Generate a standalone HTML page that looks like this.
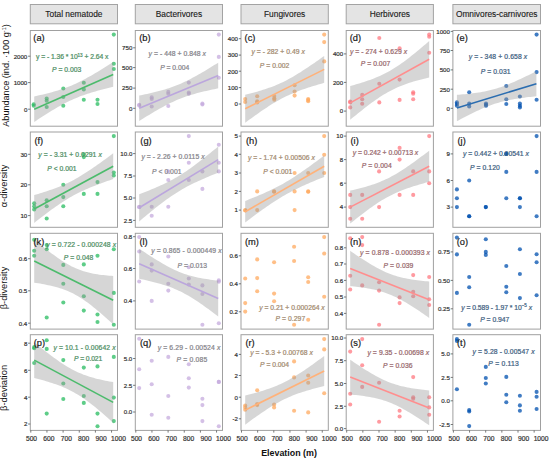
<!DOCTYPE html>
<html><head><meta charset="utf-8"><style>
html,body{margin:0;padding:0;background:#fff;}
svg{display:block;font-family:"Liberation Sans",sans-serif;}
</style></head><body>
<svg width="550" height="461" viewBox="0 0 550 461">
<rect width="550" height="461" fill="#ffffff"/>
<rect x="30.30" y="4.5" width="87.20" height="19.3" fill="#e4e4e4" stroke="#a3a3a3" stroke-width="1"/>
<text x="73.90" y="17.0" font-size="8.35" text-anchor="middle" fill="#1a1a1a" stroke="#1a1a1a" stroke-width="0.12">Total nematode</text>
<rect x="135.30" y="4.5" width="87.20" height="19.3" fill="#e4e4e4" stroke="#a3a3a3" stroke-width="1"/>
<text x="178.90" y="17.0" font-size="8.35" text-anchor="middle" fill="#1a1a1a" stroke="#1a1a1a" stroke-width="0.12">Bacterivores</text>
<rect x="241.00" y="4.5" width="87.30" height="19.3" fill="#e4e4e4" stroke="#a3a3a3" stroke-width="1"/>
<text x="284.65" y="17.0" font-size="8.35" text-anchor="middle" fill="#1a1a1a" stroke="#1a1a1a" stroke-width="0.12">Fungivores</text>
<rect x="346.20" y="4.5" width="87.20" height="19.3" fill="#e4e4e4" stroke="#a3a3a3" stroke-width="1"/>
<text x="389.80" y="17.0" font-size="8.35" text-anchor="middle" fill="#1a1a1a" stroke="#1a1a1a" stroke-width="0.12">Herbivores</text>
<rect x="452.90" y="4.5" width="87.60" height="19.3" fill="#e4e4e4" stroke="#a3a3a3" stroke-width="1"/>
<text x="496.70" y="17.0" font-size="8.35" text-anchor="middle" fill="#1a1a1a" stroke="#1a1a1a" stroke-width="0.12">Omnivores-carnivores</text>
<g>
<rect x="30.30" y="30.50" width="87.20" height="95.70" fill="#ffffff"/>
<clipPath id="cpa"><rect x="30.30" y="30.50" width="87.20" height="95.70"/></clipPath>
<g clip-path="url(#cpa)">
<circle cx="113.8" cy="34.6" r="2.05" fill="#28bc60" fill-opacity="0.75"/>
<circle cx="113.8" cy="63.7" r="2.05" fill="#28bc60" fill-opacity="0.75"/>
<circle cx="113.8" cy="69.0" r="2.05" fill="#28bc60" fill-opacity="0.75"/>
<circle cx="83.8" cy="82.8" r="2.05" fill="#28bc60" fill-opacity="0.75"/>
<circle cx="83.8" cy="89.4" r="2.05" fill="#28bc60" fill-opacity="0.75"/>
<circle cx="83.8" cy="99.7" r="2.05" fill="#28bc60" fill-opacity="0.75"/>
<circle cx="97.5" cy="99.7" r="2.05" fill="#28bc60" fill-opacity="0.75"/>
<circle cx="97.5" cy="104.0" r="2.05" fill="#28bc60" fill-opacity="0.75"/>
<circle cx="63.3" cy="88.5" r="2.05" fill="#28bc60" fill-opacity="0.75"/>
<circle cx="63.3" cy="97.0" r="2.05" fill="#28bc60" fill-opacity="0.75"/>
<circle cx="63.3" cy="105.8" r="2.05" fill="#28bc60" fill-opacity="0.75"/>
<circle cx="46.7" cy="98.5" r="2.05" fill="#28bc60" fill-opacity="0.75"/>
<circle cx="46.7" cy="100.8" r="2.05" fill="#28bc60" fill-opacity="0.75"/>
<circle cx="46.7" cy="107.0" r="2.05" fill="#28bc60" fill-opacity="0.75"/>
<circle cx="33.7" cy="104.2" r="2.05" fill="#28bc60" fill-opacity="0.75"/>
<circle cx="33.7" cy="105.8" r="2.05" fill="#28bc60" fill-opacity="0.75"/>
<path d="M34.20,96.45 L36.18,96.02 L38.15,95.57 L40.12,95.12 L42.10,94.66 L44.08,94.19 L46.05,93.70 L48.03,93.20 L50.00,92.68 L51.98,92.14 L53.95,91.59 L55.93,91.01 L57.90,90.41 L59.88,89.79 L61.85,89.14 L63.83,88.45 L65.80,87.74 L67.78,87.00 L69.75,86.22 L71.72,85.40 L73.70,84.55 L75.68,83.66 L77.65,82.73 L79.62,81.77 L81.60,80.78 L83.58,79.75 L85.55,78.70 L87.53,77.62 L89.50,76.51 L91.47,75.38 L93.45,74.24 L95.43,73.07 L97.40,71.88 L99.38,70.69 L101.35,69.47 L103.33,68.25 L105.30,67.02 L107.28,65.77 L109.25,64.52 L111.23,63.26 L113.20,62.00 L113.20,86.80 L111.23,87.28 L109.25,87.76 L107.28,88.25 L105.30,88.74 L103.33,89.25 L101.35,89.77 L99.38,90.29 L97.40,90.84 L95.43,91.39 L93.45,91.96 L91.47,92.56 L89.50,93.17 L87.53,93.80 L85.55,94.46 L83.58,95.15 L81.60,95.86 L79.62,96.61 L77.65,97.39 L75.68,98.20 L73.70,99.05 L71.72,99.94 L69.75,100.86 L67.78,101.82 L65.80,102.82 L63.83,103.85 L61.85,104.90 L59.88,105.99 L57.90,107.11 L55.93,108.25 L53.95,109.41 L51.98,110.60 L50.00,111.80 L48.03,113.02 L46.05,114.26 L44.08,115.51 L42.10,116.78 L40.12,118.06 L38.15,119.35 L36.18,120.64 L34.20,121.95Z" fill="#999999" fill-opacity="0.4"/>
<line x1="34.20" y1="109.20" x2="113.20" y2="74.40" stroke="#4cbb6c" stroke-width="1.6"/>
</g>
<text x="33.30" y="40.60" font-size="9.3" fill="#1a1a1a" stroke="#1a1a1a" stroke-width="0.2">(a)</text>
<text x="36.00" y="59.40" font-size="6.8" fill="#4f8f65" stroke="#4f8f65" stroke-width="0.22" xml:space="preserve" textLength="72.40" lengthAdjust="spacing">y = - 1.36 * 10<tspan dy="-2.6" font-size="4.6">13</tspan><tspan dy="2.6"> + 2.64 x</tspan></text>
<text x="51.90" y="72.10" font-size="6.8" fill="#4f8f65" stroke="#4f8f65" stroke-width="0.22" xml:space="preserve" textLength="29.50" lengthAdjust="spacing"><tspan font-style="italic">P</tspan> = 0.003</text>
<rect x="30.30" y="30.50" width="87.20" height="95.70" fill="none" stroke="#a0a0a0" stroke-width="1"/>
<line x1="28.10" y1="56.20" x2="30.30" y2="56.20" stroke="#555" stroke-width="0.8"/>
<text x="27.30" y="58.50" font-size="6.15" text-anchor="end" fill="#333" stroke="#333" stroke-width="0.2">2000</text>
<line x1="28.10" y1="82.60" x2="30.30" y2="82.60" stroke="#555" stroke-width="0.8"/>
<text x="27.30" y="84.90" font-size="6.15" text-anchor="end" fill="#333" stroke="#333" stroke-width="0.2">1000</text>
<line x1="28.10" y1="109.20" x2="30.30" y2="109.20" stroke="#555" stroke-width="0.8"/>
<text x="27.30" y="111.50" font-size="6.15" text-anchor="end" fill="#333" stroke="#333" stroke-width="0.2">0</text>
</g>
<g>
<rect x="135.30" y="30.50" width="87.20" height="95.70" fill="#ffffff"/>
<clipPath id="cpb"><rect x="135.30" y="30.50" width="87.20" height="95.70"/></clipPath>
<g clip-path="url(#cpb)">
<circle cx="218.8" cy="34.6" r="2.05" fill="#c6abde" fill-opacity="0.75"/>
<circle cx="218.8" cy="56.9" r="2.05" fill="#c6abde" fill-opacity="0.75"/>
<circle cx="218.8" cy="77.8" r="2.05" fill="#c6abde" fill-opacity="0.75"/>
<circle cx="202.4" cy="103.6" r="2.05" fill="#c6abde" fill-opacity="0.75"/>
<circle cx="202.4" cy="104.5" r="2.05" fill="#c6abde" fill-opacity="0.75"/>
<circle cx="188.8" cy="82.6" r="2.05" fill="#c6abde" fill-opacity="0.75"/>
<circle cx="188.8" cy="92.6" r="2.05" fill="#c6abde" fill-opacity="0.75"/>
<circle cx="188.8" cy="93.8" r="2.05" fill="#c6abde" fill-opacity="0.75"/>
<circle cx="168.3" cy="91.9" r="2.05" fill="#c6abde" fill-opacity="0.75"/>
<circle cx="168.3" cy="93.8" r="2.05" fill="#c6abde" fill-opacity="0.75"/>
<circle cx="168.3" cy="106.0" r="2.05" fill="#c6abde" fill-opacity="0.75"/>
<circle cx="151.7" cy="97.4" r="2.05" fill="#c6abde" fill-opacity="0.75"/>
<circle cx="151.7" cy="99.0" r="2.05" fill="#c6abde" fill-opacity="0.75"/>
<circle cx="151.7" cy="106.5" r="2.05" fill="#c6abde" fill-opacity="0.75"/>
<circle cx="139.2" cy="104.7" r="2.05" fill="#c6abde" fill-opacity="0.75"/>
<circle cx="139.2" cy="105.6" r="2.05" fill="#c6abde" fill-opacity="0.75"/>
<path d="M139.20,95.55 L141.17,95.16 L143.15,94.75 L145.12,94.34 L147.10,93.92 L149.07,93.49 L151.05,93.04 L153.02,92.59 L155.00,92.11 L156.97,91.62 L158.95,91.11 L160.92,90.58 L162.90,90.02 L164.88,89.45 L166.85,88.84 L168.82,88.20 L170.80,87.54 L172.77,86.83 L174.75,86.10 L176.72,85.33 L178.70,84.52 L180.67,83.67 L182.65,82.79 L184.62,81.87 L186.60,80.92 L188.57,79.93 L190.55,78.92 L192.52,77.87 L194.50,76.80 L196.47,75.71 L198.45,74.60 L200.42,73.46 L202.40,72.31 L204.38,71.15 L206.35,69.96 L208.32,68.77 L210.30,67.56 L212.27,66.35 L214.25,65.12 L216.22,63.89 L218.20,62.65 L218.20,88.35 L216.22,88.75 L214.25,89.16 L212.27,89.57 L210.30,90.00 L208.32,90.43 L206.35,90.88 L204.38,91.33 L202.40,91.81 L200.42,92.30 L198.45,92.80 L196.47,93.33 L194.50,93.88 L192.52,94.45 L190.55,95.04 L188.57,95.67 L186.60,96.32 L184.62,97.01 L182.65,97.73 L180.67,98.49 L178.70,99.28 L176.72,100.11 L174.75,100.98 L172.77,101.89 L170.80,102.82 L168.82,103.80 L166.85,104.80 L164.88,105.83 L162.90,106.90 L160.92,107.98 L158.95,109.09 L156.97,110.22 L155.00,111.37 L153.02,112.53 L151.05,113.72 L149.07,114.91 L147.10,116.12 L145.12,117.34 L143.15,118.57 L141.17,119.80 L139.20,121.05Z" fill="#999999" fill-opacity="0.4"/>
<line x1="139.20" y1="108.30" x2="218.20" y2="75.50" stroke="#bba6dd" stroke-width="1.6"/>
</g>
<text x="139.20" y="40.60" font-size="9.3" fill="#1a1a1a" stroke="#1a1a1a" stroke-width="0.2">(b)</text>
<text x="148.60" y="55.50" font-size="6.8" fill="#86858b" stroke="#86858b" stroke-width="0.22" xml:space="preserve" textLength="57.40" lengthAdjust="spacing"><tspan font-style="italic">y</tspan> = - 448 + 0.848 <tspan font-style="italic">x</tspan></text>
<text x="160.20" y="70.30" font-size="6.8" fill="#86858b" stroke="#86858b" stroke-width="0.22" xml:space="preserve" textLength="29.00" lengthAdjust="spacing"><tspan font-style="italic">P</tspan> = 0.004</text>
<rect x="135.30" y="30.50" width="87.20" height="95.70" fill="none" stroke="#a0a0a0" stroke-width="1"/>
<line x1="133.10" y1="47.80" x2="135.30" y2="47.80" stroke="#555" stroke-width="0.8"/>
<text x="132.30" y="50.10" font-size="6.15" text-anchor="end" fill="#333" stroke="#333" stroke-width="0.2">750</text>
<line x1="133.10" y1="67.60" x2="135.30" y2="67.60" stroke="#555" stroke-width="0.8"/>
<text x="132.30" y="69.90" font-size="6.15" text-anchor="end" fill="#333" stroke="#333" stroke-width="0.2">500</text>
<line x1="133.10" y1="88.10" x2="135.30" y2="88.10" stroke="#555" stroke-width="0.8"/>
<text x="132.30" y="90.40" font-size="6.15" text-anchor="end" fill="#333" stroke="#333" stroke-width="0.2">250</text>
<line x1="133.10" y1="108.30" x2="135.30" y2="108.30" stroke="#555" stroke-width="0.8"/>
<text x="132.30" y="110.60" font-size="6.15" text-anchor="end" fill="#333" stroke="#333" stroke-width="0.2">0</text>
</g>
<g>
<rect x="241.00" y="30.50" width="87.30" height="95.70" fill="#ffffff"/>
<clipPath id="cpc"><rect x="241.00" y="30.50" width="87.30" height="95.70"/></clipPath>
<g clip-path="url(#cpc)">
<circle cx="324.2" cy="34.6" r="2.05" fill="#ffaa5f" fill-opacity="0.75"/>
<circle cx="324.2" cy="42.1" r="2.05" fill="#ffaa5f" fill-opacity="0.75"/>
<circle cx="324.2" cy="61.4" r="2.05" fill="#ffaa5f" fill-opacity="0.75"/>
<circle cx="308.2" cy="99.0" r="2.05" fill="#ffaa5f" fill-opacity="0.75"/>
<circle cx="308.2" cy="100.1" r="2.05" fill="#ffaa5f" fill-opacity="0.75"/>
<circle cx="308.2" cy="101.3" r="2.05" fill="#ffaa5f" fill-opacity="0.75"/>
<circle cx="294.6" cy="85.3" r="2.05" fill="#ffaa5f" fill-opacity="0.75"/>
<circle cx="294.6" cy="91.5" r="2.05" fill="#ffaa5f" fill-opacity="0.75"/>
<circle cx="294.6" cy="95.6" r="2.05" fill="#ffaa5f" fill-opacity="0.75"/>
<circle cx="274.3" cy="96.0" r="2.05" fill="#ffaa5f" fill-opacity="0.75"/>
<circle cx="274.3" cy="98.3" r="2.05" fill="#ffaa5f" fill-opacity="0.75"/>
<circle cx="274.3" cy="99.7" r="2.05" fill="#ffaa5f" fill-opacity="0.75"/>
<circle cx="257.2" cy="96.3" r="2.05" fill="#ffaa5f" fill-opacity="0.75"/>
<circle cx="257.2" cy="101.3" r="2.05" fill="#ffaa5f" fill-opacity="0.75"/>
<circle cx="257.2" cy="102.4" r="2.05" fill="#ffaa5f" fill-opacity="0.75"/>
<circle cx="245.2" cy="99.0" r="2.05" fill="#ffaa5f" fill-opacity="0.75"/>
<circle cx="245.2" cy="102.0" r="2.05" fill="#ffaa5f" fill-opacity="0.75"/>
<path d="M245.20,94.80 L247.17,94.30 L249.15,93.80 L251.12,93.28 L253.10,92.74 L255.07,92.20 L257.05,91.64 L259.02,91.06 L261.00,90.47 L262.97,89.85 L264.95,89.22 L266.93,88.55 L268.90,87.87 L270.88,87.15 L272.85,86.41 L274.82,85.63 L276.80,84.81 L278.77,83.96 L280.75,83.07 L282.72,82.15 L284.70,81.18 L286.68,80.17 L288.65,79.12 L290.62,78.04 L292.60,76.92 L294.57,75.77 L296.55,74.58 L298.52,73.37 L300.50,72.13 L302.47,70.86 L304.45,69.58 L306.43,68.27 L308.40,66.95 L310.38,65.61 L312.35,64.26 L314.32,62.90 L316.30,61.53 L318.27,60.14 L320.25,58.75 L322.23,57.35 L324.20,55.95 L324.20,82.85 L322.23,83.42 L320.25,83.99 L318.27,84.57 L316.30,85.15 L314.32,85.75 L312.35,86.36 L310.38,86.98 L308.40,87.61 L306.43,88.26 L304.45,88.92 L302.47,89.61 L300.50,90.31 L298.52,91.04 L296.55,91.80 L294.57,92.58 L292.60,93.40 L290.62,94.25 L288.65,95.14 L286.68,96.06 L284.70,97.02 L282.72,98.02 L280.75,99.07 L278.77,100.15 L276.80,101.27 L274.82,102.42 L272.85,103.61 L270.88,104.84 L268.90,106.09 L266.93,107.38 L264.95,108.68 L262.97,110.02 L261.00,111.37 L259.02,112.75 L257.05,114.14 L255.07,115.55 L253.10,116.98 L251.12,118.41 L249.15,119.86 L247.17,121.33 L245.20,122.80Z" fill="#999999" fill-opacity="0.4"/>
<line x1="245.20" y1="108.80" x2="324.20" y2="69.40" stroke="#ffb27a" stroke-width="1.6"/>
</g>
<text x="244.60" y="40.60" font-size="9.3" fill="#1a1a1a" stroke="#1a1a1a" stroke-width="0.2">(c)</text>
<text x="251.40" y="53.80" font-size="6.8" fill="#a38b70" stroke="#a38b70" stroke-width="0.22" xml:space="preserve" textLength="53.60" lengthAdjust="spacing"><tspan font-style="italic">y</tspan> = - 282 + 0.49 <tspan font-style="italic">x</tspan></text>
<text x="259.80" y="68.00" font-size="6.8" fill="#a38b70" stroke="#a38b70" stroke-width="0.22" xml:space="preserve" textLength="29.50" lengthAdjust="spacing"><tspan font-style="italic">P</tspan> = 0.002</text>
<rect x="241.00" y="30.50" width="87.30" height="95.70" fill="none" stroke="#a0a0a0" stroke-width="1"/>
<line x1="238.80" y1="38.70" x2="241.00" y2="38.70" stroke="#555" stroke-width="0.8"/>
<text x="238.00" y="41.00" font-size="6.15" text-anchor="end" fill="#333" stroke="#333" stroke-width="0.2">400</text>
<line x1="238.80" y1="55.10" x2="241.00" y2="55.10" stroke="#555" stroke-width="0.8"/>
<text x="238.00" y="57.40" font-size="6.15" text-anchor="end" fill="#333" stroke="#333" stroke-width="0.2">300</text>
<line x1="238.80" y1="71.20" x2="241.00" y2="71.20" stroke="#555" stroke-width="0.8"/>
<text x="238.00" y="73.50" font-size="6.15" text-anchor="end" fill="#333" stroke="#333" stroke-width="0.2">200</text>
<line x1="238.80" y1="87.60" x2="241.00" y2="87.60" stroke="#555" stroke-width="0.8"/>
<text x="238.00" y="89.90" font-size="6.15" text-anchor="end" fill="#333" stroke="#333" stroke-width="0.2">100</text>
<line x1="238.80" y1="104.00" x2="241.00" y2="104.00" stroke="#555" stroke-width="0.8"/>
<text x="238.00" y="106.30" font-size="6.15" text-anchor="end" fill="#333" stroke="#333" stroke-width="0.2">0</text>
</g>
<g>
<rect x="346.20" y="30.50" width="87.20" height="95.70" fill="#ffffff"/>
<clipPath id="cpd"><rect x="346.20" y="30.50" width="87.20" height="95.70"/></clipPath>
<g clip-path="url(#cpd)">
<circle cx="429.2" cy="34.6" r="2.05" fill="#ff7880" fill-opacity="0.75"/>
<circle cx="429.2" cy="36.8" r="2.05" fill="#ff7880" fill-opacity="0.75"/>
<circle cx="429.2" cy="52.8" r="2.05" fill="#ff7880" fill-opacity="0.75"/>
<circle cx="413.2" cy="92.2" r="2.05" fill="#ff7880" fill-opacity="0.75"/>
<circle cx="413.2" cy="93.8" r="2.05" fill="#ff7880" fill-opacity="0.75"/>
<circle cx="413.2" cy="99.2" r="2.05" fill="#ff7880" fill-opacity="0.75"/>
<circle cx="399.6" cy="48.2" r="2.05" fill="#ff7880" fill-opacity="0.75"/>
<circle cx="399.6" cy="79.6" r="2.05" fill="#ff7880" fill-opacity="0.75"/>
<circle cx="399.6" cy="99.9" r="2.05" fill="#ff7880" fill-opacity="0.75"/>
<circle cx="379.3" cy="38.0" r="2.05" fill="#ff7880" fill-opacity="0.75"/>
<circle cx="379.3" cy="83.7" r="2.05" fill="#ff7880" fill-opacity="0.75"/>
<circle cx="379.3" cy="102.4" r="2.05" fill="#ff7880" fill-opacity="0.75"/>
<circle cx="362.2" cy="94.9" r="2.05" fill="#ff7880" fill-opacity="0.75"/>
<circle cx="362.2" cy="99.2" r="2.05" fill="#ff7880" fill-opacity="0.75"/>
<circle cx="362.2" cy="103.8" r="2.05" fill="#ff7880" fill-opacity="0.75"/>
<circle cx="350.2" cy="101.5" r="2.05" fill="#ff7880" fill-opacity="0.75"/>
<circle cx="350.2" cy="102.4" r="2.05" fill="#ff7880" fill-opacity="0.75"/>
<circle cx="350.2" cy="107.4" r="2.05" fill="#ff7880" fill-opacity="0.75"/>
<path d="M350.20,86.05 L352.18,85.49 L354.15,84.93 L356.12,84.35 L358.10,83.76 L360.07,83.16 L362.05,82.54 L364.02,81.91 L366.00,81.26 L367.97,80.58 L369.95,79.88 L371.93,79.16 L373.90,78.40 L375.88,77.62 L377.85,76.79 L379.82,75.93 L381.80,75.02 L383.77,74.07 L385.75,73.07 L387.72,72.03 L389.70,70.93 L391.68,69.78 L393.65,68.58 L395.62,67.33 L397.60,66.04 L399.57,64.70 L401.55,63.32 L403.52,61.89 L405.50,60.43 L407.47,58.94 L409.45,57.41 L411.43,55.86 L413.40,54.28 L415.38,52.68 L417.35,51.05 L419.32,49.41 L421.30,47.75 L423.27,46.07 L425.25,44.38 L427.23,42.67 L429.20,40.95 L429.20,77.45 L427.23,77.92 L425.25,78.39 L423.27,78.89 L421.30,79.39 L419.32,79.92 L417.35,80.46 L415.38,81.02 L413.40,81.60 L411.43,82.21 L409.45,82.84 L407.47,83.50 L405.50,84.19 L403.52,84.91 L401.55,85.67 L399.57,86.48 L397.60,87.32 L395.62,88.21 L393.65,89.15 L391.68,90.13 L389.70,91.17 L387.72,92.26 L385.75,93.40 L383.77,94.58 L381.80,95.82 L379.82,97.10 L377.85,98.42 L375.88,99.78 L373.90,101.18 L371.93,102.61 L369.95,104.07 L367.97,105.55 L366.00,107.06 L364.02,108.60 L362.05,110.15 L360.07,111.72 L358.10,113.30 L356.12,114.90 L354.15,116.50 L352.18,118.12 L350.20,119.75Z" fill="#999999" fill-opacity="0.4"/>
<line x1="350.20" y1="102.90" x2="429.20" y2="59.20" stroke="#ff8e8e" stroke-width="1.6"/>
</g>
<text x="349.70" y="41.10" font-size="9.3" fill="#1a1a1a" stroke="#1a1a1a" stroke-width="0.2">(d)</text>
<text x="349.90" y="54.00" font-size="6.8" fill="#98686c" stroke="#98686c" stroke-width="0.22" xml:space="preserve" textLength="57.20" lengthAdjust="spacing"><tspan font-style="italic">y</tspan> = - 274 + 0.629 <tspan font-style="italic">x</tspan></text>
<text x="360.80" y="65.80" font-size="6.8" fill="#98686c" stroke="#98686c" stroke-width="0.22" xml:space="preserve" textLength="29.40" lengthAdjust="spacing"><tspan font-style="italic">P</tspan> = 0.007</text>
<rect x="346.20" y="30.50" width="87.20" height="95.70" fill="none" stroke="#a0a0a0" stroke-width="1"/>
<line x1="344.00" y1="53.90" x2="346.20" y2="53.90" stroke="#555" stroke-width="0.8"/>
<text x="343.20" y="56.20" font-size="6.15" text-anchor="end" fill="#333" stroke="#333" stroke-width="0.2">400</text>
<line x1="344.00" y1="82.40" x2="346.20" y2="82.40" stroke="#555" stroke-width="0.8"/>
<text x="343.20" y="84.70" font-size="6.15" text-anchor="end" fill="#333" stroke="#333" stroke-width="0.2">200</text>
<line x1="344.00" y1="111.10" x2="346.20" y2="111.10" stroke="#555" stroke-width="0.8"/>
<text x="343.20" y="113.40" font-size="6.15" text-anchor="end" fill="#333" stroke="#333" stroke-width="0.2">0</text>
</g>
<g>
<rect x="452.90" y="30.50" width="87.60" height="95.70" fill="#ffffff"/>
<clipPath id="cpe"><rect x="452.90" y="30.50" width="87.60" height="95.70"/></clipPath>
<g clip-path="url(#cpe)">
<circle cx="536.6" cy="34.6" r="2.05" fill="#0050af" fill-opacity="0.75"/>
<circle cx="536.6" cy="72.1" r="2.05" fill="#0050af" fill-opacity="0.75"/>
<circle cx="536.6" cy="99.7" r="2.05" fill="#0050af" fill-opacity="0.75"/>
<circle cx="519.9" cy="96.5" r="2.05" fill="#0050af" fill-opacity="0.75"/>
<circle cx="519.9" cy="103.6" r="2.05" fill="#0050af" fill-opacity="0.75"/>
<circle cx="519.9" cy="105.8" r="2.05" fill="#0050af" fill-opacity="0.75"/>
<circle cx="519.9" cy="107.4" r="2.05" fill="#0050af" fill-opacity="0.75"/>
<circle cx="506.3" cy="86.0" r="2.05" fill="#0050af" fill-opacity="0.75"/>
<circle cx="506.3" cy="99.2" r="2.05" fill="#0050af" fill-opacity="0.75"/>
<circle cx="506.3" cy="104.0" r="2.05" fill="#0050af" fill-opacity="0.75"/>
<circle cx="486.0" cy="103.6" r="2.05" fill="#0050af" fill-opacity="0.75"/>
<circle cx="486.0" cy="104.7" r="2.05" fill="#0050af" fill-opacity="0.75"/>
<circle cx="486.0" cy="105.8" r="2.05" fill="#0050af" fill-opacity="0.75"/>
<circle cx="469.2" cy="92.2" r="2.05" fill="#0050af" fill-opacity="0.75"/>
<circle cx="469.2" cy="103.6" r="2.05" fill="#0050af" fill-opacity="0.75"/>
<circle cx="469.2" cy="106.5" r="2.05" fill="#0050af" fill-opacity="0.75"/>
<circle cx="456.9" cy="102.4" r="2.05" fill="#0050af" fill-opacity="0.75"/>
<circle cx="456.9" cy="104.0" r="2.05" fill="#0050af" fill-opacity="0.75"/>
<circle cx="456.9" cy="105.8" r="2.05" fill="#0050af" fill-opacity="0.75"/>
<path d="M456.90,94.80 L458.89,94.66 L460.88,94.51 L462.86,94.35 L464.85,94.17 L466.84,93.99 L468.82,93.78 L470.81,93.57 L472.80,93.33 L474.79,93.08 L476.77,92.80 L478.76,92.50 L480.75,92.18 L482.74,91.83 L484.72,91.45 L486.71,91.04 L488.70,90.60 L490.69,90.12 L492.67,89.60 L494.66,89.05 L496.65,88.46 L498.64,87.84 L500.62,87.17 L502.61,86.47 L504.60,85.74 L506.59,84.98 L508.57,84.18 L510.56,83.36 L512.55,82.52 L514.54,81.65 L516.52,80.77 L518.51,79.86 L520.50,78.94 L522.49,78.01 L524.48,77.06 L526.46,76.11 L528.45,75.14 L530.44,74.16 L532.42,73.18 L534.41,72.19 L536.40,71.20 L536.40,96.20 L534.41,96.42 L532.42,96.65 L530.44,96.88 L528.45,97.12 L526.46,97.37 L524.48,97.63 L522.49,97.90 L520.50,98.18 L518.51,98.47 L516.52,98.78 L514.54,99.11 L512.55,99.46 L510.56,99.83 L508.57,100.23 L506.59,100.65 L504.60,101.10 L502.61,101.58 L500.62,102.10 L498.64,102.65 L496.65,103.24 L494.66,103.86 L492.67,104.53 L490.69,105.23 L488.70,105.96 L486.71,106.73 L484.72,107.54 L482.74,108.37 L480.75,109.24 L478.76,110.13 L476.77,111.05 L474.79,111.99 L472.80,112.95 L470.81,113.93 L468.82,114.93 L466.84,115.94 L464.85,116.97 L462.86,118.01 L460.88,119.06 L458.89,120.13 L456.90,121.20Z" fill="#999999" fill-opacity="0.4"/>
<line x1="456.90" y1="108.00" x2="536.40" y2="83.70" stroke="#2b6db0" stroke-width="1.6"/>
</g>
<text x="456.50" y="40.60" font-size="9.3" fill="#1a1a1a" stroke="#1a1a1a" stroke-width="0.2">(e)</text>
<text x="468.70" y="58.70" font-size="6.8" fill="#3f6282" stroke="#3f6282" stroke-width="0.22" xml:space="preserve" textLength="58.50" lengthAdjust="spacing"><tspan font-style="italic">y</tspan> = - 348 + 0.658 <tspan font-style="italic">x</tspan></text>
<text x="480.70" y="73.70" font-size="6.8" fill="#3f6282" stroke="#3f6282" stroke-width="0.22" xml:space="preserve" textLength="29.80" lengthAdjust="spacing"><tspan font-style="italic">P</tspan> = 0.031</text>
<rect x="452.90" y="30.50" width="87.60" height="95.70" fill="none" stroke="#a0a0a0" stroke-width="1"/>
<line x1="450.70" y1="31.40" x2="452.90" y2="31.40" stroke="#555" stroke-width="0.8"/>
<text x="449.90" y="33.70" font-size="6.15" text-anchor="end" fill="#333" stroke="#333" stroke-width="0.2">1000</text>
<line x1="450.70" y1="50.50" x2="452.90" y2="50.50" stroke="#555" stroke-width="0.8"/>
<text x="449.90" y="52.80" font-size="6.15" text-anchor="end" fill="#333" stroke="#333" stroke-width="0.2">750</text>
<line x1="450.70" y1="69.90" x2="452.90" y2="69.90" stroke="#555" stroke-width="0.8"/>
<text x="449.90" y="72.20" font-size="6.15" text-anchor="end" fill="#333" stroke="#333" stroke-width="0.2">500</text>
<line x1="450.70" y1="89.20" x2="452.90" y2="89.20" stroke="#555" stroke-width="0.8"/>
<text x="449.90" y="91.50" font-size="6.15" text-anchor="end" fill="#333" stroke="#333" stroke-width="0.2">250</text>
<line x1="450.70" y1="108.30" x2="452.90" y2="108.30" stroke="#555" stroke-width="0.8"/>
<text x="449.90" y="110.60" font-size="6.15" text-anchor="end" fill="#333" stroke="#333" stroke-width="0.2">0</text>
</g>
<g>
<rect x="30.30" y="132.00" width="87.20" height="95.30" fill="#ffffff"/>
<clipPath id="cpf"><rect x="30.30" y="132.00" width="87.20" height="95.30"/></clipPath>
<g clip-path="url(#cpf)">
<circle cx="113.8" cy="136.1" r="2.05" fill="#28bc60" fill-opacity="0.75"/>
<circle cx="113.8" cy="172.5" r="2.05" fill="#28bc60" fill-opacity="0.75"/>
<circle cx="113.8" cy="175.5" r="2.05" fill="#28bc60" fill-opacity="0.75"/>
<circle cx="97.5" cy="182.1" r="2.05" fill="#28bc60" fill-opacity="0.75"/>
<circle cx="97.5" cy="193.9" r="2.05" fill="#28bc60" fill-opacity="0.75"/>
<circle cx="83.8" cy="154.3" r="2.05" fill="#28bc60" fill-opacity="0.75"/>
<circle cx="83.8" cy="157.1" r="2.05" fill="#28bc60" fill-opacity="0.75"/>
<circle cx="83.8" cy="193.9" r="2.05" fill="#28bc60" fill-opacity="0.75"/>
<circle cx="63.3" cy="184.8" r="2.05" fill="#28bc60" fill-opacity="0.75"/>
<circle cx="63.3" cy="197.1" r="2.05" fill="#28bc60" fill-opacity="0.75"/>
<circle cx="63.3" cy="206.2" r="2.05" fill="#28bc60" fill-opacity="0.75"/>
<circle cx="46.7" cy="200.3" r="2.05" fill="#28bc60" fill-opacity="0.75"/>
<circle cx="46.7" cy="206.2" r="2.05" fill="#28bc60" fill-opacity="0.75"/>
<circle cx="46.7" cy="218.5" r="2.05" fill="#28bc60" fill-opacity="0.75"/>
<circle cx="34.2" cy="203.3" r="2.05" fill="#28bc60" fill-opacity="0.75"/>
<circle cx="34.2" cy="206.2" r="2.05" fill="#28bc60" fill-opacity="0.75"/>
<circle cx="34.2" cy="209.4" r="2.05" fill="#28bc60" fill-opacity="0.75"/>
<path d="M34.20,195.10 L36.18,194.52 L38.15,193.93 L40.12,193.33 L42.10,192.72 L44.08,192.09 L46.05,191.45 L48.03,190.79 L50.00,190.11 L51.98,189.42 L53.95,188.70 L55.93,187.96 L57.90,187.19 L59.88,186.40 L61.85,185.57 L63.83,184.71 L65.80,183.82 L67.78,182.89 L69.75,181.93 L71.72,180.92 L73.70,179.88 L75.68,178.80 L77.65,177.68 L79.62,176.53 L81.60,175.34 L83.58,174.11 L85.55,172.86 L87.53,171.58 L89.50,170.27 L91.47,168.94 L93.45,167.59 L95.43,166.22 L97.40,164.84 L99.38,163.43 L101.35,162.02 L103.33,160.60 L105.30,159.16 L107.28,157.72 L109.25,156.27 L111.23,154.81 L113.20,153.35 L113.20,179.05 L111.23,179.73 L109.25,180.41 L107.28,181.10 L105.30,181.80 L103.33,182.50 L101.35,183.22 L99.38,183.95 L97.40,184.68 L95.43,185.44 L93.45,186.21 L91.47,187.00 L89.50,187.81 L87.53,188.64 L85.55,189.50 L83.58,190.39 L81.60,191.30 L79.62,192.25 L77.65,193.24 L75.68,194.26 L73.70,195.32 L71.72,196.42 L69.75,197.55 L67.78,198.73 L65.80,199.94 L63.83,201.19 L61.85,202.47 L59.88,203.78 L57.90,205.13 L55.93,206.50 L53.95,207.90 L51.98,209.32 L50.00,210.77 L48.03,212.23 L46.05,213.71 L44.08,215.21 L42.10,216.72 L40.12,218.25 L38.15,219.79 L36.18,221.34 L34.20,222.90Z" fill="#999999" fill-opacity="0.4"/>
<line x1="34.20" y1="209.00" x2="113.20" y2="166.20" stroke="#4cbb6c" stroke-width="1.6"/>
</g>
<text x="34.40" y="143.50" font-size="9.3" fill="#1a1a1a" stroke="#1a1a1a" stroke-width="0.2">(f)</text>
<text x="38.30" y="157.00" font-size="6.8" fill="#4f8f65" stroke="#4f8f65" stroke-width="0.22" xml:space="preserve" textLength="63.50" lengthAdjust="spacing"><tspan font-style="italic">y</tspan> = - 3.31 + 0.0291 <tspan font-style="italic">x</tspan></text>
<text x="47.30" y="171.00" font-size="6.8" fill="#4f8f65" stroke="#4f8f65" stroke-width="0.22" xml:space="preserve" textLength="29.20" lengthAdjust="spacing"><tspan font-style="italic">P</tspan> < 0.001</text>
<rect x="30.30" y="132.00" width="87.20" height="95.30" fill="none" stroke="#a0a0a0" stroke-width="1"/>
<line x1="28.10" y1="154.30" x2="30.30" y2="154.30" stroke="#555" stroke-width="0.8"/>
<text x="27.30" y="156.60" font-size="6.15" text-anchor="end" fill="#333" stroke="#333" stroke-width="0.2">30</text>
<line x1="28.10" y1="184.80" x2="30.30" y2="184.80" stroke="#555" stroke-width="0.8"/>
<text x="27.30" y="187.10" font-size="6.15" text-anchor="end" fill="#333" stroke="#333" stroke-width="0.2">20</text>
<line x1="28.10" y1="215.60" x2="30.30" y2="215.60" stroke="#555" stroke-width="0.8"/>
<text x="27.30" y="217.90" font-size="6.15" text-anchor="end" fill="#333" stroke="#333" stroke-width="0.2">10</text>
</g>
<g>
<rect x="135.30" y="132.00" width="87.20" height="95.30" fill="#ffffff"/>
<clipPath id="cpg"><rect x="135.30" y="132.00" width="87.20" height="95.30"/></clipPath>
<g clip-path="url(#cpg)">
<circle cx="188.8" cy="136.1" r="2.05" fill="#c6abde" fill-opacity="0.75"/>
<circle cx="188.8" cy="162.7" r="2.05" fill="#c6abde" fill-opacity="0.75"/>
<circle cx="188.8" cy="180.0" r="2.05" fill="#c6abde" fill-opacity="0.75"/>
<circle cx="218.8" cy="144.8" r="2.05" fill="#c6abde" fill-opacity="0.75"/>
<circle cx="218.8" cy="162.7" r="2.05" fill="#c6abde" fill-opacity="0.75"/>
<circle cx="218.8" cy="171.4" r="2.05" fill="#c6abde" fill-opacity="0.75"/>
<circle cx="202.4" cy="171.4" r="2.05" fill="#c6abde" fill-opacity="0.75"/>
<circle cx="202.4" cy="188.9" r="2.05" fill="#c6abde" fill-opacity="0.75"/>
<circle cx="168.3" cy="171.4" r="2.05" fill="#c6abde" fill-opacity="0.75"/>
<circle cx="168.3" cy="180.0" r="2.05" fill="#c6abde" fill-opacity="0.75"/>
<circle cx="168.3" cy="206.7" r="2.05" fill="#c6abde" fill-opacity="0.75"/>
<circle cx="151.7" cy="206.7" r="2.05" fill="#c6abde" fill-opacity="0.75"/>
<circle cx="151.7" cy="215.8" r="2.05" fill="#c6abde" fill-opacity="0.75"/>
<circle cx="139.2" cy="206.7" r="2.05" fill="#c6abde" fill-opacity="0.75"/>
<circle cx="139.2" cy="207.2" r="2.05" fill="#c6abde" fill-opacity="0.75"/>
<path d="M139.20,194.15 L141.17,193.42 L143.15,192.68 L145.12,191.92 L147.10,191.16 L149.07,190.38 L151.05,189.59 L153.02,188.78 L155.00,187.96 L156.97,187.11 L158.95,186.25 L160.92,185.36 L162.90,184.45 L164.88,183.51 L166.85,182.54 L168.82,181.54 L170.80,180.50 L172.77,179.43 L174.75,178.33 L176.72,177.18 L178.70,176.00 L180.67,174.78 L182.65,173.52 L184.62,172.22 L186.60,170.89 L188.57,169.52 L190.55,168.13 L192.52,166.70 L194.50,165.25 L196.47,163.78 L198.45,162.28 L200.42,160.76 L202.40,159.23 L204.38,157.68 L206.35,156.12 L208.32,154.55 L210.30,152.97 L212.27,151.37 L214.25,149.77 L216.22,148.16 L218.20,146.55 L218.20,172.65 L216.22,173.45 L214.25,174.25 L212.27,175.06 L210.30,175.87 L208.32,176.70 L206.35,177.54 L204.38,178.39 L202.40,179.25 L200.42,180.13 L198.45,181.02 L196.47,181.93 L194.50,182.87 L192.52,183.83 L190.55,184.81 L188.57,185.83 L186.60,186.87 L184.62,187.95 L182.65,189.06 L180.67,190.21 L178.70,191.40 L176.72,192.63 L174.75,193.89 L172.77,195.20 L170.80,196.54 L168.82,197.91 L166.85,199.32 L164.88,200.76 L162.90,202.23 L160.92,203.73 L158.95,205.25 L156.97,206.80 L155.00,208.36 L153.02,209.95 L151.05,211.55 L149.07,213.17 L147.10,214.80 L145.12,216.45 L143.15,218.10 L141.17,219.77 L139.20,221.45Z" fill="#999999" fill-opacity="0.4"/>
<line x1="139.20" y1="207.80" x2="218.20" y2="159.60" stroke="#bba6dd" stroke-width="1.6"/>
</g>
<text x="140.30" y="143.50" font-size="9.3" fill="#1a1a1a" stroke="#1a1a1a" stroke-width="0.2">(g)</text>
<text x="141.40" y="159.00" font-size="6.8" fill="#86858b" stroke="#86858b" stroke-width="0.22" xml:space="preserve" textLength="63.20" lengthAdjust="spacing"><tspan font-style="italic">y</tspan> = - 2.26 + 0.0115 <tspan font-style="italic">x</tspan></text>
<text x="152.00" y="173.60" font-size="6.8" fill="#86858b" stroke="#86858b" stroke-width="0.22" xml:space="preserve" textLength="29.50" lengthAdjust="spacing"><tspan font-style="italic">P</tspan> < 0.001</text>
<rect x="135.30" y="132.00" width="87.20" height="95.30" fill="none" stroke="#a0a0a0" stroke-width="1"/>
<line x1="133.10" y1="153.60" x2="135.30" y2="153.60" stroke="#555" stroke-width="0.8"/>
<text x="132.30" y="155.90" font-size="6.15" text-anchor="end" fill="#333" stroke="#333" stroke-width="0.2">10.0</text>
<line x1="133.10" y1="176.00" x2="135.30" y2="176.00" stroke="#555" stroke-width="0.8"/>
<text x="132.30" y="178.30" font-size="6.15" text-anchor="end" fill="#333" stroke="#333" stroke-width="0.2">7.5</text>
<line x1="133.10" y1="198.00" x2="135.30" y2="198.00" stroke="#555" stroke-width="0.8"/>
<text x="132.30" y="200.30" font-size="6.15" text-anchor="end" fill="#333" stroke="#333" stroke-width="0.2">5.0</text>
<line x1="133.10" y1="220.40" x2="135.30" y2="220.40" stroke="#555" stroke-width="0.8"/>
<text x="132.30" y="222.70" font-size="6.15" text-anchor="end" fill="#333" stroke="#333" stroke-width="0.2">2.5</text>
</g>
<g>
<rect x="241.00" y="132.00" width="87.30" height="95.30" fill="#ffffff"/>
<clipPath id="cph"><rect x="241.00" y="132.00" width="87.30" height="95.30"/></clipPath>
<g clip-path="url(#cph)">
<circle cx="324.2" cy="136.1" r="2.05" fill="#ffaa5f" fill-opacity="0.75"/>
<circle cx="324.2" cy="154.8" r="2.05" fill="#ffaa5f" fill-opacity="0.75"/>
<circle cx="324.2" cy="173.0" r="2.05" fill="#ffaa5f" fill-opacity="0.75"/>
<circle cx="308.2" cy="173.0" r="2.05" fill="#ffaa5f" fill-opacity="0.75"/>
<circle cx="308.2" cy="191.4" r="2.05" fill="#ffaa5f" fill-opacity="0.75"/>
<circle cx="308.2" cy="191.8" r="2.05" fill="#ffaa5f" fill-opacity="0.75"/>
<circle cx="294.6" cy="173.0" r="2.05" fill="#ffaa5f" fill-opacity="0.75"/>
<circle cx="294.6" cy="191.4" r="2.05" fill="#ffaa5f" fill-opacity="0.75"/>
<circle cx="294.6" cy="210.1" r="2.05" fill="#ffaa5f" fill-opacity="0.75"/>
<circle cx="274.1" cy="191.4" r="2.05" fill="#ffaa5f" fill-opacity="0.75"/>
<circle cx="274.1" cy="191.8" r="2.05" fill="#ffaa5f" fill-opacity="0.75"/>
<circle cx="257.2" cy="191.4" r="2.05" fill="#ffaa5f" fill-opacity="0.75"/>
<circle cx="257.2" cy="210.1" r="2.05" fill="#ffaa5f" fill-opacity="0.75"/>
<circle cx="245.2" cy="210.1" r="2.05" fill="#ffaa5f" fill-opacity="0.75"/>
<circle cx="245.2" cy="210.5" r="2.05" fill="#ffaa5f" fill-opacity="0.75"/>
<path d="M245.20,200.90 L247.17,200.13 L249.15,199.36 L251.12,198.57 L253.10,197.78 L255.07,196.97 L257.05,196.16 L259.02,195.33 L261.00,194.49 L262.97,193.63 L264.95,192.76 L266.93,191.87 L268.90,190.96 L270.88,190.03 L272.85,189.07 L274.82,188.09 L276.80,187.08 L278.77,186.04 L280.75,184.97 L282.72,183.88 L284.70,182.75 L286.68,181.59 L288.65,180.40 L290.62,179.18 L292.60,177.93 L294.57,176.65 L296.55,175.35 L298.52,174.03 L300.50,172.69 L302.47,171.32 L304.45,169.94 L306.43,168.55 L308.40,167.14 L310.38,165.71 L312.35,164.28 L314.32,162.83 L316.30,161.38 L318.27,159.92 L320.25,158.45 L322.23,156.98 L324.20,155.50 L324.20,176.90 L322.23,177.70 L320.25,178.50 L318.27,179.30 L316.30,180.12 L314.32,180.94 L312.35,181.77 L310.38,182.61 L308.40,183.46 L306.43,184.33 L304.45,185.21 L302.47,186.10 L300.50,187.01 L298.52,187.94 L296.55,188.90 L294.57,189.87 L292.60,190.87 L290.62,191.90 L288.65,192.95 L286.68,194.04 L284.70,195.15 L282.72,196.30 L280.75,197.48 L278.77,198.68 L276.80,199.92 L274.82,201.19 L272.85,202.48 L270.88,203.80 L268.90,205.14 L266.93,206.51 L264.95,207.89 L262.97,209.29 L261.00,210.71 L259.02,212.15 L257.05,213.59 L255.07,215.05 L253.10,216.52 L251.12,218.00 L249.15,219.49 L247.17,220.99 L245.20,222.50Z" fill="#999999" fill-opacity="0.4"/>
<line x1="245.20" y1="211.70" x2="324.20" y2="166.20" stroke="#ffb27a" stroke-width="1.6"/>
</g>
<text x="246.00" y="143.50" font-size="9.3" fill="#1a1a1a" stroke="#1a1a1a" stroke-width="0.2">(h)</text>
<text x="248.00" y="160.10" font-size="6.8" fill="#a38b70" stroke="#a38b70" stroke-width="0.22" xml:space="preserve" textLength="66.90" lengthAdjust="spacing"><tspan font-style="italic">y</tspan> = - 1.74 + 0.00506 <tspan font-style="italic">x</tspan></text>
<text x="263.30" y="173.80" font-size="6.8" fill="#a38b70" stroke="#a38b70" stroke-width="0.22" xml:space="preserve" textLength="29.10" lengthAdjust="spacing"><tspan font-style="italic">P</tspan> < 0.001</text>
<rect x="241.00" y="132.00" width="87.30" height="95.30" fill="none" stroke="#a0a0a0" stroke-width="1"/>
<line x1="238.80" y1="136.10" x2="241.00" y2="136.10" stroke="#555" stroke-width="0.8"/>
<text x="238.00" y="138.40" font-size="6.15" text-anchor="end" fill="#333" stroke="#333" stroke-width="0.2">5</text>
<line x1="238.80" y1="154.30" x2="241.00" y2="154.30" stroke="#555" stroke-width="0.8"/>
<text x="238.00" y="156.60" font-size="6.15" text-anchor="end" fill="#333" stroke="#333" stroke-width="0.2">4</text>
<line x1="238.80" y1="173.00" x2="241.00" y2="173.00" stroke="#555" stroke-width="0.8"/>
<text x="238.00" y="175.30" font-size="6.15" text-anchor="end" fill="#333" stroke="#333" stroke-width="0.2">3</text>
<line x1="238.80" y1="191.40" x2="241.00" y2="191.40" stroke="#555" stroke-width="0.8"/>
<text x="238.00" y="193.70" font-size="6.15" text-anchor="end" fill="#333" stroke="#333" stroke-width="0.2">2</text>
<line x1="238.80" y1="210.10" x2="241.00" y2="210.10" stroke="#555" stroke-width="0.8"/>
<text x="238.00" y="212.40" font-size="6.15" text-anchor="end" fill="#333" stroke="#333" stroke-width="0.2">1</text>
</g>
<g>
<rect x="346.20" y="132.00" width="87.20" height="95.30" fill="#ffffff"/>
<clipPath id="cpi"><rect x="346.20" y="132.00" width="87.20" height="95.30"/></clipPath>
<g clip-path="url(#cpi)">
<circle cx="429.2" cy="136.1" r="2.05" fill="#ff7880" fill-opacity="0.75"/>
<circle cx="429.2" cy="171.4" r="2.05" fill="#ff7880" fill-opacity="0.75"/>
<circle cx="429.2" cy="183.2" r="2.05" fill="#ff7880" fill-opacity="0.75"/>
<circle cx="413.2" cy="171.4" r="2.05" fill="#ff7880" fill-opacity="0.75"/>
<circle cx="413.2" cy="194.9" r="2.05" fill="#ff7880" fill-opacity="0.75"/>
<circle cx="399.6" cy="147.9" r="2.05" fill="#ff7880" fill-opacity="0.75"/>
<circle cx="399.6" cy="159.6" r="2.05" fill="#ff7880" fill-opacity="0.75"/>
<circle cx="399.6" cy="194.9" r="2.05" fill="#ff7880" fill-opacity="0.75"/>
<circle cx="379.1" cy="171.4" r="2.05" fill="#ff7880" fill-opacity="0.75"/>
<circle cx="379.1" cy="207.1" r="2.05" fill="#ff7880" fill-opacity="0.75"/>
<circle cx="362.2" cy="194.9" r="2.05" fill="#ff7880" fill-opacity="0.75"/>
<circle cx="362.2" cy="218.8" r="2.05" fill="#ff7880" fill-opacity="0.75"/>
<circle cx="350.2" cy="194.9" r="2.05" fill="#ff7880" fill-opacity="0.75"/>
<circle cx="350.2" cy="207.1" r="2.05" fill="#ff7880" fill-opacity="0.75"/>
<circle cx="350.2" cy="218.8" r="2.05" fill="#ff7880" fill-opacity="0.75"/>
<path d="M350.20,190.60 L352.18,190.16 L354.15,189.70 L356.12,189.23 L358.10,188.75 L360.07,188.24 L362.05,187.73 L364.02,187.19 L366.00,186.63 L367.97,186.04 L369.95,185.44 L371.93,184.80 L373.90,184.13 L375.88,183.43 L377.85,182.70 L379.82,181.92 L381.80,181.11 L383.77,180.25 L385.75,179.35 L387.72,178.40 L389.70,177.40 L391.68,176.36 L393.65,175.27 L395.62,174.14 L397.60,172.97 L399.57,171.76 L401.55,170.51 L403.52,169.23 L405.50,167.91 L407.47,166.57 L409.45,165.21 L411.43,163.82 L413.40,162.41 L415.38,160.98 L417.35,159.54 L419.32,158.08 L421.30,156.62 L423.27,155.14 L425.25,153.65 L427.23,152.15 L429.20,150.65 L429.20,181.75 L427.23,182.29 L425.25,182.84 L423.27,183.40 L421.30,183.96 L419.32,184.54 L417.35,185.13 L415.38,185.73 L413.40,186.35 L411.43,186.99 L409.45,187.64 L407.47,188.32 L405.50,189.03 L403.52,189.76 L401.55,190.52 L399.57,191.32 L397.60,192.15 L395.62,193.02 L393.65,193.94 L391.68,194.89 L389.70,195.90 L387.72,196.95 L385.75,198.04 L383.77,199.19 L381.80,200.37 L379.82,201.60 L377.85,202.87 L375.88,204.18 L373.90,205.53 L371.93,206.91 L369.95,208.31 L367.97,209.75 L366.00,211.21 L364.02,212.70 L362.05,214.20 L360.07,215.73 L358.10,217.27 L356.12,218.83 L354.15,220.41 L352.18,222.00 L350.20,223.60Z" fill="#999999" fill-opacity="0.4"/>
<line x1="350.20" y1="207.10" x2="429.20" y2="166.20" stroke="#ff8e8e" stroke-width="1.6"/>
</g>
<text x="350.50" y="143.80" font-size="9.3" fill="#1a1a1a" stroke="#1a1a1a" stroke-width="0.2">(i)</text>
<text x="352.70" y="155.10" font-size="6.8" fill="#98686c" stroke="#98686c" stroke-width="0.22" xml:space="preserve" textLength="65.50" lengthAdjust="spacing"><tspan font-style="italic">y</tspan> = 0.242 + 0.00713 <tspan font-style="italic">x</tspan></text>
<text x="361.70" y="168.00" font-size="6.8" fill="#98686c" stroke="#98686c" stroke-width="0.22" xml:space="preserve" textLength="30.00" lengthAdjust="spacing"><tspan font-style="italic">P</tspan> = 0.004</text>
<rect x="346.20" y="132.00" width="87.20" height="95.30" fill="none" stroke="#a0a0a0" stroke-width="1"/>
<line x1="344.00" y1="136.10" x2="346.20" y2="136.10" stroke="#555" stroke-width="0.8"/>
<text x="343.20" y="138.40" font-size="6.15" text-anchor="end" fill="#333" stroke="#333" stroke-width="0.2">10</text>
<line x1="344.00" y1="159.60" x2="346.20" y2="159.60" stroke="#555" stroke-width="0.8"/>
<text x="343.20" y="161.90" font-size="6.15" text-anchor="end" fill="#333" stroke="#333" stroke-width="0.2">8</text>
<line x1="344.00" y1="183.20" x2="346.20" y2="183.20" stroke="#555" stroke-width="0.8"/>
<text x="343.20" y="185.50" font-size="6.15" text-anchor="end" fill="#333" stroke="#333" stroke-width="0.2">6</text>
<line x1="344.00" y1="207.10" x2="346.20" y2="207.10" stroke="#555" stroke-width="0.8"/>
<text x="343.20" y="209.40" font-size="6.15" text-anchor="end" fill="#333" stroke="#333" stroke-width="0.2">4</text>
</g>
<g>
<rect x="452.90" y="132.00" width="87.60" height="95.30" fill="#ffffff"/>
<clipPath id="cpj"><rect x="452.90" y="132.00" width="87.60" height="95.30"/></clipPath>
<g clip-path="url(#cpj)">
<circle cx="536.6" cy="136.1" r="2.05" fill="#0050af" fill-opacity="0.75"/>
<circle cx="536.6" cy="171.9" r="2.05" fill="#0050af" fill-opacity="0.75"/>
<circle cx="536.6" cy="216.3" r="2.05" fill="#0050af" fill-opacity="0.75"/>
<circle cx="519.9" cy="198.3" r="2.05" fill="#0050af" fill-opacity="0.75"/>
<circle cx="519.9" cy="198.3" r="2.05" fill="#0050af" fill-opacity="0.75"/>
<circle cx="519.9" cy="207.1" r="2.05" fill="#0050af" fill-opacity="0.75"/>
<circle cx="506.3" cy="153.9" r="2.05" fill="#0050af" fill-opacity="0.75"/>
<circle cx="506.3" cy="153.9" r="2.05" fill="#0050af" fill-opacity="0.75"/>
<circle cx="506.3" cy="171.9" r="2.05" fill="#0050af" fill-opacity="0.75"/>
<circle cx="506.3" cy="198.3" r="2.05" fill="#0050af" fill-opacity="0.75"/>
<circle cx="485.8" cy="207.1" r="2.05" fill="#0050af" fill-opacity="0.75"/>
<circle cx="485.8" cy="207.1" r="2.05" fill="#0050af" fill-opacity="0.75"/>
<circle cx="469.2" cy="180.5" r="2.05" fill="#0050af" fill-opacity="0.75"/>
<circle cx="469.2" cy="216.3" r="2.05" fill="#0050af" fill-opacity="0.75"/>
<circle cx="469.2" cy="216.3" r="2.05" fill="#0050af" fill-opacity="0.75"/>
<circle cx="456.9" cy="189.4" r="2.05" fill="#0050af" fill-opacity="0.75"/>
<circle cx="456.9" cy="198.3" r="2.05" fill="#0050af" fill-opacity="0.75"/>
<circle cx="456.9" cy="207.1" r="2.05" fill="#0050af" fill-opacity="0.75"/>
</g>
<text x="457.50" y="143.70" font-size="9.3" fill="#1a1a1a" stroke="#1a1a1a" stroke-width="0.2">(j)</text>
<text x="463.00" y="156.30" font-size="6.8" fill="#3f6282" stroke="#3f6282" stroke-width="0.22" xml:space="preserve" textLength="65.80" lengthAdjust="spacing"><tspan font-style="italic">y</tspan> = 0.442 + 0.00541 <tspan font-style="italic">x</tspan></text>
<text x="469.90" y="169.60" font-size="6.8" fill="#3f6282" stroke="#3f6282" stroke-width="0.22" xml:space="preserve" textLength="29.90" lengthAdjust="spacing"><tspan font-style="italic">P</tspan> = 0.120</text>
<rect x="452.90" y="132.00" width="87.60" height="95.30" fill="none" stroke="#a0a0a0" stroke-width="1"/>
<line x1="450.70" y1="153.90" x2="452.90" y2="153.90" stroke="#555" stroke-width="0.8"/>
<text x="449.90" y="156.20" font-size="6.15" text-anchor="end" fill="#333" stroke="#333" stroke-width="0.2">9</text>
<line x1="450.70" y1="180.50" x2="452.90" y2="180.50" stroke="#555" stroke-width="0.8"/>
<text x="449.90" y="182.80" font-size="6.15" text-anchor="end" fill="#333" stroke="#333" stroke-width="0.2">6</text>
<line x1="450.70" y1="207.10" x2="452.90" y2="207.10" stroke="#555" stroke-width="0.8"/>
<text x="449.90" y="209.40" font-size="6.15" text-anchor="end" fill="#333" stroke="#333" stroke-width="0.2">3</text>
</g>
<g>
<rect x="30.30" y="233.30" width="87.20" height="95.80" fill="#ffffff"/>
<clipPath id="cpk"><rect x="30.30" y="233.30" width="87.20" height="95.80"/></clipPath>
<g clip-path="url(#cpk)">
<circle cx="34.2" cy="239.8" r="2.05" fill="#28bc60" fill-opacity="0.75"/>
<circle cx="34.2" cy="250.8" r="2.05" fill="#28bc60" fill-opacity="0.75"/>
<circle cx="34.2" cy="255.8" r="2.05" fill="#28bc60" fill-opacity="0.75"/>
<circle cx="46.7" cy="245.1" r="2.05" fill="#28bc60" fill-opacity="0.75"/>
<circle cx="46.7" cy="249.2" r="2.05" fill="#28bc60" fill-opacity="0.75"/>
<circle cx="46.7" cy="317.5" r="2.05" fill="#28bc60" fill-opacity="0.75"/>
<circle cx="63.3" cy="264.9" r="2.05" fill="#28bc60" fill-opacity="0.75"/>
<circle cx="63.3" cy="283.8" r="2.05" fill="#28bc60" fill-opacity="0.75"/>
<circle cx="63.3" cy="302.5" r="2.05" fill="#28bc60" fill-opacity="0.75"/>
<circle cx="83.8" cy="264.4" r="2.05" fill="#28bc60" fill-opacity="0.75"/>
<circle cx="83.8" cy="296.3" r="2.05" fill="#28bc60" fill-opacity="0.75"/>
<circle cx="83.8" cy="310.6" r="2.05" fill="#28bc60" fill-opacity="0.75"/>
<circle cx="97.5" cy="255.8" r="2.05" fill="#28bc60" fill-opacity="0.75"/>
<circle cx="97.5" cy="314.5" r="2.05" fill="#28bc60" fill-opacity="0.75"/>
<circle cx="97.5" cy="322.0" r="2.05" fill="#28bc60" fill-opacity="0.75"/>
<circle cx="113.8" cy="249.2" r="2.05" fill="#28bc60" fill-opacity="0.75"/>
<circle cx="113.8" cy="292.9" r="2.05" fill="#28bc60" fill-opacity="0.75"/>
<circle cx="113.8" cy="324.8" r="2.05" fill="#28bc60" fill-opacity="0.75"/>
<path d="M34.20,239.35 L36.18,241.00 L38.15,242.63 L40.12,244.26 L42.10,245.87 L44.08,247.46 L46.05,249.04 L48.03,250.59 L50.00,252.13 L51.98,253.63 L53.95,255.11 L55.93,256.55 L57.90,257.96 L59.88,259.32 L61.85,260.64 L63.83,261.91 L65.80,263.12 L67.78,264.28 L69.75,265.37 L71.72,266.40 L73.70,267.37 L75.68,268.27 L77.65,269.10 L79.62,269.87 L81.60,270.57 L83.58,271.21 L85.55,271.80 L87.53,272.34 L89.50,272.82 L91.47,273.26 L93.45,273.66 L95.43,274.01 L97.40,274.34 L99.38,274.63 L101.35,274.89 L103.33,275.12 L105.30,275.33 L107.28,275.51 L109.25,275.68 L111.23,275.82 L113.20,275.95 L113.20,324.45 L111.23,322.62 L109.25,320.80 L107.28,319.01 L105.30,317.23 L103.33,315.48 L101.35,313.75 L99.38,312.05 L97.40,310.38 L95.43,308.75 L93.45,307.14 L91.47,305.58 L89.50,304.06 L87.53,302.58 L85.55,301.16 L83.58,299.79 L81.60,298.47 L79.62,297.21 L77.65,296.02 L75.68,294.89 L73.70,293.83 L71.72,292.84 L69.75,291.91 L67.78,291.04 L65.80,290.24 L63.83,289.49 L61.85,288.80 L59.88,288.16 L57.90,287.56 L55.93,287.01 L53.95,286.49 L51.98,286.01 L50.00,285.55 L48.03,285.13 L46.05,284.72 L44.08,284.34 L42.10,283.97 L40.12,283.62 L38.15,283.29 L36.18,282.96 L34.20,282.65Z" fill="#999999" fill-opacity="0.4"/>
<line x1="34.20" y1="261.00" x2="113.20" y2="300.20" stroke="#4cbb6c" stroke-width="1.6"/>
</g>
<text x="33.40" y="245.10" font-size="9.3" fill="#1a1a1a" stroke="#1a1a1a" stroke-width="0.2">(k)</text>
<text x="46.20" y="247.40" font-size="6.8" fill="#4f8f65" stroke="#4f8f65" stroke-width="0.22" xml:space="preserve" textLength="69.90" lengthAdjust="spacing"><tspan font-style="italic">y</tspan> = 0.722 - 0.000248 <tspan font-style="italic">x</tspan></text>
<text x="63.70" y="260.10" font-size="6.8" fill="#4f8f65" stroke="#4f8f65" stroke-width="0.22" xml:space="preserve" textLength="29.60" lengthAdjust="spacing"><tspan font-style="italic">P</tspan> = 0.048</text>
<rect x="30.30" y="233.30" width="87.20" height="95.80" fill="none" stroke="#a0a0a0" stroke-width="1"/>
<line x1="28.10" y1="258.70" x2="30.30" y2="258.70" stroke="#555" stroke-width="0.8"/>
<text x="27.30" y="261.00" font-size="6.15" text-anchor="end" fill="#333" stroke="#333" stroke-width="0.2">0.6</text>
<line x1="28.10" y1="290.80" x2="30.30" y2="290.80" stroke="#555" stroke-width="0.8"/>
<text x="27.30" y="293.10" font-size="6.15" text-anchor="end" fill="#333" stroke="#333" stroke-width="0.2">0.5</text>
<line x1="28.10" y1="323.20" x2="30.30" y2="323.20" stroke="#555" stroke-width="0.8"/>
<text x="27.30" y="325.50" font-size="6.15" text-anchor="end" fill="#333" stroke="#333" stroke-width="0.2">0.4</text>
</g>
<g>
<rect x="135.30" y="233.30" width="87.20" height="95.80" fill="#ffffff"/>
<clipPath id="cpl"><rect x="135.30" y="233.30" width="87.20" height="95.80"/></clipPath>
<g clip-path="url(#cpl)">
<circle cx="139.2" cy="237.1" r="2.05" fill="#c6abde" fill-opacity="0.75"/>
<circle cx="139.2" cy="251.5" r="2.05" fill="#c6abde" fill-opacity="0.75"/>
<circle cx="139.2" cy="281.5" r="2.05" fill="#c6abde" fill-opacity="0.75"/>
<circle cx="151.7" cy="264.4" r="2.05" fill="#c6abde" fill-opacity="0.75"/>
<circle cx="151.7" cy="270.6" r="2.05" fill="#c6abde" fill-opacity="0.75"/>
<circle cx="151.7" cy="300.9" r="2.05" fill="#c6abde" fill-opacity="0.75"/>
<circle cx="168.3" cy="256.5" r="2.05" fill="#c6abde" fill-opacity="0.75"/>
<circle cx="168.3" cy="283.8" r="2.05" fill="#c6abde" fill-opacity="0.75"/>
<circle cx="168.3" cy="290.6" r="2.05" fill="#c6abde" fill-opacity="0.75"/>
<circle cx="188.8" cy="267.2" r="2.05" fill="#c6abde" fill-opacity="0.75"/>
<circle cx="188.8" cy="278.5" r="2.05" fill="#c6abde" fill-opacity="0.75"/>
<circle cx="188.8" cy="284.5" r="2.05" fill="#c6abde" fill-opacity="0.75"/>
<circle cx="202.4" cy="285.4" r="2.05" fill="#c6abde" fill-opacity="0.75"/>
<circle cx="202.4" cy="294.0" r="2.05" fill="#c6abde" fill-opacity="0.75"/>
<circle cx="202.4" cy="324.8" r="2.05" fill="#c6abde" fill-opacity="0.75"/>
<circle cx="218.8" cy="280.4" r="2.05" fill="#c6abde" fill-opacity="0.75"/>
<circle cx="218.8" cy="281.7" r="2.05" fill="#c6abde" fill-opacity="0.75"/>
<circle cx="218.8" cy="323.2" r="2.05" fill="#c6abde" fill-opacity="0.75"/>
<path d="M139.20,248.70 L141.17,250.01 L143.15,251.31 L145.12,252.60 L147.10,253.89 L149.07,255.16 L151.05,256.43 L153.02,257.68 L155.00,258.92 L156.97,260.14 L158.95,261.35 L160.92,262.53 L162.90,263.68 L164.88,264.81 L166.85,265.90 L168.82,266.96 L170.80,267.98 L172.77,268.97 L174.75,269.90 L176.72,270.79 L178.70,271.64 L180.67,272.44 L182.65,273.19 L184.62,273.89 L186.60,274.55 L188.57,275.16 L190.55,275.73 L192.52,276.26 L194.50,276.75 L196.47,277.21 L198.45,277.64 L200.42,278.04 L202.40,278.41 L204.38,278.75 L206.35,279.07 L208.32,279.37 L210.30,279.65 L212.27,279.91 L214.25,280.16 L216.22,280.39 L218.20,280.60 L218.20,316.60 L216.22,315.07 L214.25,313.55 L212.27,312.05 L210.30,310.57 L208.32,309.10 L206.35,307.66 L204.38,306.23 L202.40,304.83 L200.42,303.46 L198.45,302.11 L196.47,300.79 L194.50,299.51 L192.52,298.26 L190.55,297.04 L188.57,295.87 L186.60,294.73 L184.62,293.65 L182.65,292.60 L180.67,291.61 L178.70,290.66 L176.72,289.76 L174.75,288.91 L172.77,288.10 L170.80,287.34 L168.82,286.61 L166.85,285.93 L164.88,285.28 L162.90,284.66 L160.92,284.07 L158.95,283.50 L156.97,282.96 L155.00,282.44 L153.02,281.93 L151.05,281.44 L149.07,280.96 L147.10,280.49 L145.12,280.04 L143.15,279.58 L141.17,279.14 L139.20,278.70Z" fill="#999999" fill-opacity="0.4"/>
<line x1="139.20" y1="263.70" x2="218.20" y2="298.60" stroke="#bba6dd" stroke-width="1.6"/>
</g>
<text x="139.40" y="245.00" font-size="9.3" fill="#1a1a1a" stroke="#1a1a1a" stroke-width="0.2">(l)</text>
<text x="151.30" y="253.10" font-size="6.8" fill="#86858b" stroke="#86858b" stroke-width="0.22" xml:space="preserve" textLength="70.30" lengthAdjust="spacing"><tspan font-style="italic">y</tspan> = 0.865 - 0.000449 <tspan font-style="italic">x</tspan></text>
<text x="177.50" y="267.80" font-size="6.8" fill="#86858b" stroke="#86858b" stroke-width="0.22" xml:space="preserve" textLength="29.50" lengthAdjust="spacing"><tspan font-style="italic">P</tspan> = 0.013</text>
<rect x="135.30" y="233.30" width="87.20" height="95.80" fill="none" stroke="#a0a0a0" stroke-width="1"/>
<line x1="133.10" y1="236.70" x2="135.30" y2="236.70" stroke="#555" stroke-width="0.8"/>
<text x="132.30" y="239.00" font-size="6.15" text-anchor="end" fill="#333" stroke="#333" stroke-width="0.2">0.8</text>
<line x1="133.10" y1="268.50" x2="135.30" y2="268.50" stroke="#555" stroke-width="0.8"/>
<text x="132.30" y="270.80" font-size="6.15" text-anchor="end" fill="#333" stroke="#333" stroke-width="0.2">0.6</text>
<line x1="133.10" y1="300.90" x2="135.30" y2="300.90" stroke="#555" stroke-width="0.8"/>
<text x="132.30" y="303.20" font-size="6.15" text-anchor="end" fill="#333" stroke="#333" stroke-width="0.2">0.4</text>
</g>
<g>
<rect x="241.00" y="233.30" width="87.30" height="95.80" fill="#ffffff"/>
<clipPath id="cpm"><rect x="241.00" y="233.30" width="87.30" height="95.80"/></clipPath>
<g clip-path="url(#cpm)">
<circle cx="245.2" cy="278.5" r="2.05" fill="#ffaa5f" fill-opacity="0.75"/>
<circle cx="245.2" cy="303.1" r="2.05" fill="#ffaa5f" fill-opacity="0.75"/>
<circle cx="245.2" cy="311.6" r="2.05" fill="#ffaa5f" fill-opacity="0.75"/>
<circle cx="257.2" cy="259.4" r="2.05" fill="#ffaa5f" fill-opacity="0.75"/>
<circle cx="257.2" cy="278.1" r="2.05" fill="#ffaa5f" fill-opacity="0.75"/>
<circle cx="257.2" cy="291.3" r="2.05" fill="#ffaa5f" fill-opacity="0.75"/>
<circle cx="274.1" cy="262.2" r="2.05" fill="#ffaa5f" fill-opacity="0.75"/>
<circle cx="274.1" cy="293.6" r="2.05" fill="#ffaa5f" fill-opacity="0.75"/>
<circle cx="274.1" cy="301.3" r="2.05" fill="#ffaa5f" fill-opacity="0.75"/>
<circle cx="294.1" cy="246.7" r="2.05" fill="#ffaa5f" fill-opacity="0.75"/>
<circle cx="294.1" cy="261.0" r="2.05" fill="#ffaa5f" fill-opacity="0.75"/>
<circle cx="294.1" cy="324.8" r="2.05" fill="#ffaa5f" fill-opacity="0.75"/>
<circle cx="308.2" cy="277.2" r="2.05" fill="#ffaa5f" fill-opacity="0.75"/>
<circle cx="308.2" cy="282.0" r="2.05" fill="#ffaa5f" fill-opacity="0.75"/>
<circle cx="308.2" cy="319.8" r="2.05" fill="#ffaa5f" fill-opacity="0.75"/>
<circle cx="324.2" cy="237.1" r="2.05" fill="#ffaa5f" fill-opacity="0.75"/>
<circle cx="324.2" cy="253.5" r="2.05" fill="#ffaa5f" fill-opacity="0.75"/>
<circle cx="324.2" cy="296.8" r="2.05" fill="#ffaa5f" fill-opacity="0.75"/>
</g>
<text x="245.00" y="244.90" font-size="9.3" fill="#1a1a1a" stroke="#1a1a1a" stroke-width="0.2">(m)</text>
<text x="259.20" y="310.10" font-size="6.8" fill="#a38b70" stroke="#a38b70" stroke-width="0.22" xml:space="preserve" textLength="65.50" lengthAdjust="spacing"><tspan font-style="italic">y</tspan> = 0.21 + 0.000264 <tspan font-style="italic">x</tspan></text>
<text x="275.50" y="321.00" font-size="6.8" fill="#a38b70" stroke="#a38b70" stroke-width="0.22" xml:space="preserve" textLength="29.70" lengthAdjust="spacing"><tspan font-style="italic">P</tspan> = 0.297</text>
<rect x="241.00" y="233.30" width="87.30" height="95.80" fill="none" stroke="#a0a0a0" stroke-width="1"/>
<line x1="238.80" y1="255.80" x2="241.00" y2="255.80" stroke="#555" stroke-width="0.8"/>
<text x="238.00" y="258.10" font-size="6.15" text-anchor="end" fill="#333" stroke="#333" stroke-width="0.2">0.6</text>
<line x1="238.80" y1="283.80" x2="241.00" y2="283.80" stroke="#555" stroke-width="0.8"/>
<text x="238.00" y="286.10" font-size="6.15" text-anchor="end" fill="#333" stroke="#333" stroke-width="0.2">0.4</text>
<line x1="238.80" y1="311.80" x2="241.00" y2="311.80" stroke="#555" stroke-width="0.8"/>
<text x="238.00" y="314.10" font-size="6.15" text-anchor="end" fill="#333" stroke="#333" stroke-width="0.2">0.2</text>
</g>
<g>
<rect x="346.20" y="233.30" width="87.20" height="95.80" fill="#ffffff"/>
<clipPath id="cpn"><rect x="346.20" y="233.30" width="87.20" height="95.80"/></clipPath>
<g clip-path="url(#cpn)">
<circle cx="350.2" cy="238.2" r="2.05" fill="#ff7880" fill-opacity="0.75"/>
<circle cx="350.2" cy="275.8" r="2.05" fill="#ff7880" fill-opacity="0.75"/>
<circle cx="350.2" cy="289.5" r="2.05" fill="#ff7880" fill-opacity="0.75"/>
<circle cx="362.2" cy="237.1" r="2.05" fill="#ff7880" fill-opacity="0.75"/>
<circle cx="362.2" cy="245.1" r="2.05" fill="#ff7880" fill-opacity="0.75"/>
<circle cx="362.2" cy="285.4" r="2.05" fill="#ff7880" fill-opacity="0.75"/>
<circle cx="379.1" cy="282.2" r="2.05" fill="#ff7880" fill-opacity="0.75"/>
<circle cx="379.1" cy="290.6" r="2.05" fill="#ff7880" fill-opacity="0.75"/>
<circle cx="379.1" cy="324.8" r="2.05" fill="#ff7880" fill-opacity="0.75"/>
<circle cx="399.6" cy="297.4" r="2.05" fill="#ff7880" fill-opacity="0.75"/>
<circle cx="399.6" cy="303.1" r="2.05" fill="#ff7880" fill-opacity="0.75"/>
<circle cx="413.2" cy="275.1" r="2.05" fill="#ff7880" fill-opacity="0.75"/>
<circle cx="413.2" cy="291.8" r="2.05" fill="#ff7880" fill-opacity="0.75"/>
<circle cx="413.2" cy="296.3" r="2.05" fill="#ff7880" fill-opacity="0.75"/>
<circle cx="429.2" cy="277.0" r="2.05" fill="#ff7880" fill-opacity="0.75"/>
<circle cx="429.2" cy="299.3" r="2.05" fill="#ff7880" fill-opacity="0.75"/>
<circle cx="429.2" cy="305.0" r="2.05" fill="#ff7880" fill-opacity="0.75"/>
<path d="M350.20,250.85 L352.18,252.21 L354.15,253.56 L356.12,254.90 L358.10,256.23 L360.07,257.54 L362.05,258.83 L364.02,260.11 L366.00,261.36 L367.97,262.59 L369.95,263.79 L371.93,264.97 L373.90,266.11 L375.88,267.22 L377.85,268.29 L379.82,269.32 L381.80,270.31 L383.77,271.24 L385.75,272.13 L387.72,272.97 L389.70,273.76 L391.68,274.50 L393.65,275.18 L395.62,275.82 L397.60,276.40 L399.57,276.94 L401.55,277.44 L403.52,277.90 L405.50,278.32 L407.47,278.71 L409.45,279.07 L411.43,279.40 L413.40,279.71 L415.38,279.99 L417.35,280.25 L419.32,280.50 L421.30,280.72 L423.27,280.94 L425.25,281.14 L427.23,281.32 L429.20,281.50 L429.20,317.90 L427.23,316.52 L425.25,315.14 L423.27,313.78 L421.30,312.44 L419.32,311.10 L417.35,309.79 L415.38,308.49 L413.40,307.21 L411.43,305.96 L409.45,304.73 L407.47,303.53 L405.50,302.36 L403.52,301.22 L401.55,300.12 L399.57,299.06 L397.60,298.04 L395.62,297.06 L393.65,296.14 L391.68,295.26 L389.70,294.44 L387.72,293.67 L385.75,292.95 L383.77,292.28 L381.80,291.65 L379.82,291.08 L377.85,290.55 L375.88,290.06 L373.90,289.61 L371.93,289.19 L369.95,288.81 L367.97,288.45 L366.00,288.12 L364.02,287.81 L362.05,287.53 L360.07,287.26 L358.10,287.01 L356.12,286.78 L354.15,286.56 L352.18,286.35 L350.20,286.15Z" fill="#999999" fill-opacity="0.4"/>
<line x1="350.20" y1="268.50" x2="429.20" y2="299.70" stroke="#ff8e8e" stroke-width="1.6"/>
</g>
<text x="350.00" y="245.00" font-size="9.3" fill="#1a1a1a" stroke="#1a1a1a" stroke-width="0.2">(n)</text>
<text x="360.10" y="254.80" font-size="6.8" fill="#98686c" stroke="#98686c" stroke-width="0.22" xml:space="preserve" textLength="69.90" lengthAdjust="spacing"><tspan font-style="italic">y</tspan> = 0.878 - 0.000393 <tspan font-style="italic">x</tspan></text>
<text x="383.50" y="268.00" font-size="6.8" fill="#98686c" stroke="#98686c" stroke-width="0.22" xml:space="preserve" textLength="29.90" lengthAdjust="spacing"><tspan font-style="italic">P</tspan> = 0.039</text>
<rect x="346.20" y="233.30" width="87.20" height="95.80" fill="none" stroke="#a0a0a0" stroke-width="1"/>
<line x1="344.00" y1="247.80" x2="346.20" y2="247.80" stroke="#555" stroke-width="0.8"/>
<text x="343.20" y="250.10" font-size="6.15" text-anchor="end" fill="#333" stroke="#333" stroke-width="0.2">0.8</text>
<line x1="344.00" y1="264.00" x2="346.20" y2="264.00" stroke="#555" stroke-width="0.8"/>
<text x="343.20" y="266.30" font-size="6.15" text-anchor="end" fill="#333" stroke="#333" stroke-width="0.2">0.7</text>
<line x1="344.00" y1="280.40" x2="346.20" y2="280.40" stroke="#555" stroke-width="0.8"/>
<text x="343.20" y="282.70" font-size="6.15" text-anchor="end" fill="#333" stroke="#333" stroke-width="0.2">0.6</text>
<line x1="344.00" y1="297.00" x2="346.20" y2="297.00" stroke="#555" stroke-width="0.8"/>
<text x="343.20" y="299.30" font-size="6.15" text-anchor="end" fill="#333" stroke="#333" stroke-width="0.2">0.5</text>
<line x1="344.00" y1="313.40" x2="346.20" y2="313.40" stroke="#555" stroke-width="0.8"/>
<text x="343.20" y="315.70" font-size="6.15" text-anchor="end" fill="#333" stroke="#333" stroke-width="0.2">0.4</text>
</g>
<g>
<rect x="452.90" y="233.30" width="87.60" height="95.80" fill="#ffffff"/>
<clipPath id="cpo"><rect x="452.90" y="233.30" width="87.60" height="95.80"/></clipPath>
<g clip-path="url(#cpo)">
<circle cx="456.9" cy="237.6" r="2.05" fill="#0050af" fill-opacity="0.75"/>
<circle cx="456.9" cy="254.4" r="2.05" fill="#0050af" fill-opacity="0.75"/>
<circle cx="456.9" cy="292.9" r="2.05" fill="#0050af" fill-opacity="0.75"/>
<circle cx="469.2" cy="277.0" r="2.05" fill="#0050af" fill-opacity="0.75"/>
<circle cx="469.2" cy="287.2" r="2.05" fill="#0050af" fill-opacity="0.75"/>
<circle cx="469.2" cy="324.8" r="2.05" fill="#0050af" fill-opacity="0.75"/>
<circle cx="485.8" cy="239.2" r="2.05" fill="#0050af" fill-opacity="0.75"/>
<circle cx="485.8" cy="251.9" r="2.05" fill="#0050af" fill-opacity="0.75"/>
<circle cx="485.8" cy="254.9" r="2.05" fill="#0050af" fill-opacity="0.75"/>
<circle cx="506.3" cy="266.0" r="2.05" fill="#0050af" fill-opacity="0.75"/>
<circle cx="506.3" cy="286.7" r="2.05" fill="#0050af" fill-opacity="0.75"/>
<circle cx="506.3" cy="292.2" r="2.05" fill="#0050af" fill-opacity="0.75"/>
<circle cx="519.9" cy="249.2" r="2.05" fill="#0050af" fill-opacity="0.75"/>
<circle cx="519.9" cy="274.0" r="2.05" fill="#0050af" fill-opacity="0.75"/>
<circle cx="519.9" cy="298.1" r="2.05" fill="#0050af" fill-opacity="0.75"/>
<circle cx="536.6" cy="254.2" r="2.05" fill="#0050af" fill-opacity="0.75"/>
<circle cx="536.6" cy="262.2" r="2.05" fill="#0050af" fill-opacity="0.75"/>
<circle cx="536.6" cy="295.2" r="2.05" fill="#0050af" fill-opacity="0.75"/>
</g>
<text x="456.70" y="244.90" font-size="9.3" fill="#1a1a1a" stroke="#1a1a1a" stroke-width="0.2">(o)</text>
<text x="461.30" y="309.50" font-size="6.8" fill="#3f6282" stroke="#3f6282" stroke-width="0.22" xml:space="preserve" textLength="70.80" lengthAdjust="spacing"><tspan font-style="italic">y</tspan> = 0.589 - 1.97 * 10<tspan dy="-2.6" font-size="4.6">−5</tspan><tspan dy="2.6"> <tspan font-style="italic">x</tspan></tspan></text>
<text x="480.20" y="322.00" font-size="6.8" fill="#3f6282" stroke="#3f6282" stroke-width="0.22" xml:space="preserve" textLength="29.10" lengthAdjust="spacing"><tspan font-style="italic">P</tspan> = 0.947</text>
<rect x="452.90" y="233.30" width="87.60" height="95.80" fill="none" stroke="#a0a0a0" stroke-width="1"/>
<line x1="450.70" y1="251.90" x2="452.90" y2="251.90" stroke="#555" stroke-width="0.8"/>
<text x="449.90" y="254.20" font-size="6.15" text-anchor="end" fill="#333" stroke="#333" stroke-width="0.2">0.75</text>
<line x1="450.70" y1="280.40" x2="452.90" y2="280.40" stroke="#555" stroke-width="0.8"/>
<text x="449.90" y="282.70" font-size="6.15" text-anchor="end" fill="#333" stroke="#333" stroke-width="0.2">0.50</text>
<line x1="450.70" y1="308.80" x2="452.90" y2="308.80" stroke="#555" stroke-width="0.8"/>
<text x="449.90" y="311.10" font-size="6.15" text-anchor="end" fill="#333" stroke="#333" stroke-width="0.2">0.25</text>
</g>
<g>
<rect x="30.30" y="334.70" width="87.20" height="95.70" fill="#ffffff"/>
<clipPath id="cpp"><rect x="30.30" y="334.70" width="87.20" height="95.70"/></clipPath>
<g clip-path="url(#cpp)">
<circle cx="34.2" cy="347.1" r="2.05" fill="#28bc60" fill-opacity="0.75"/>
<circle cx="34.2" cy="348.2" r="2.05" fill="#28bc60" fill-opacity="0.75"/>
<circle cx="34.2" cy="363.0" r="2.05" fill="#28bc60" fill-opacity="0.75"/>
<circle cx="46.7" cy="340.2" r="2.05" fill="#28bc60" fill-opacity="0.75"/>
<circle cx="46.7" cy="348.9" r="2.05" fill="#28bc60" fill-opacity="0.75"/>
<circle cx="46.7" cy="413.6" r="2.05" fill="#28bc60" fill-opacity="0.75"/>
<circle cx="63.3" cy="360.1" r="2.05" fill="#28bc60" fill-opacity="0.75"/>
<circle cx="63.3" cy="383.5" r="2.05" fill="#28bc60" fill-opacity="0.75"/>
<circle cx="63.3" cy="399.0" r="2.05" fill="#28bc60" fill-opacity="0.75"/>
<circle cx="83.8" cy="367.6" r="2.05" fill="#28bc60" fill-opacity="0.75"/>
<circle cx="83.8" cy="396.0" r="2.05" fill="#28bc60" fill-opacity="0.75"/>
<circle cx="83.8" cy="402.9" r="2.05" fill="#28bc60" fill-opacity="0.75"/>
<circle cx="97.5" cy="366.4" r="2.05" fill="#28bc60" fill-opacity="0.75"/>
<circle cx="97.5" cy="413.6" r="2.05" fill="#28bc60" fill-opacity="0.75"/>
<circle cx="97.5" cy="426.3" r="2.05" fill="#28bc60" fill-opacity="0.75"/>
<circle cx="113.8" cy="356.9" r="2.05" fill="#28bc60" fill-opacity="0.75"/>
<circle cx="113.8" cy="397.6" r="2.05" fill="#28bc60" fill-opacity="0.75"/>
<circle cx="113.8" cy="421.1" r="2.05" fill="#28bc60" fill-opacity="0.75"/>
<path d="M34.20,342.25 L36.18,343.85 L38.15,345.44 L40.12,347.02 L42.10,348.59 L44.08,350.15 L46.05,351.70 L48.03,353.23 L50.00,354.74 L51.98,356.22 L53.95,357.69 L55.93,359.12 L57.90,360.53 L59.88,361.90 L61.85,363.23 L63.83,364.52 L65.80,365.77 L67.78,366.97 L69.75,368.12 L71.72,369.21 L73.70,370.25 L75.68,371.24 L77.65,372.17 L79.62,373.04 L81.60,373.87 L83.58,374.64 L85.55,375.37 L87.53,376.05 L89.50,376.69 L91.47,377.29 L93.45,377.86 L95.43,378.39 L97.40,378.89 L99.38,379.37 L101.35,379.82 L103.33,380.25 L105.30,380.66 L107.28,381.04 L109.25,381.41 L111.23,381.76 L113.20,382.10 L113.20,422.70 L111.23,420.92 L109.25,419.16 L107.28,417.41 L105.30,415.68 L103.33,413.98 L101.35,412.29 L99.38,410.63 L97.40,408.99 L95.43,407.37 L93.45,405.79 L91.47,404.24 L89.50,402.73 L87.53,401.26 L85.55,399.82 L83.58,398.43 L81.60,397.09 L79.62,395.80 L77.65,394.56 L75.68,393.38 L73.70,392.25 L71.72,391.17 L69.75,390.15 L67.78,389.19 L65.80,388.27 L63.83,387.40 L61.85,386.58 L59.88,385.80 L57.90,385.05 L55.93,384.34 L53.95,383.66 L51.98,383.01 L50.00,382.38 L48.03,381.78 L46.05,381.19 L44.08,380.62 L42.10,380.07 L40.12,379.52 L38.15,378.99 L36.18,378.47 L34.20,377.95Z" fill="#999999" fill-opacity="0.4"/>
<line x1="34.20" y1="360.10" x2="113.20" y2="402.40" stroke="#4cbb6c" stroke-width="1.6"/>
</g>
<text x="33.70" y="345.80" font-size="9.3" fill="#1a1a1a" stroke="#1a1a1a" stroke-width="0.2">(p)</text>
<text x="53.50" y="350.10" font-size="6.8" fill="#4f8f65" stroke="#4f8f65" stroke-width="0.22" xml:space="preserve" textLength="62.10" lengthAdjust="spacing"><tspan font-style="italic">y</tspan> = 10.1 - 0.00642 <tspan font-style="italic">x</tspan></text>
<text x="74.00" y="361.00" font-size="6.8" fill="#4f8f65" stroke="#4f8f65" stroke-width="0.22" xml:space="preserve" textLength="28.30" lengthAdjust="spacing"><tspan font-style="italic">P</tspan> = 0.021</text>
<rect x="30.30" y="334.70" width="87.20" height="95.70" fill="none" stroke="#a0a0a0" stroke-width="1"/>
<line x1="28.10" y1="343.20" x2="30.30" y2="343.20" stroke="#555" stroke-width="0.8"/>
<text x="27.30" y="345.50" font-size="6.15" text-anchor="end" fill="#333" stroke="#333" stroke-width="0.2">8</text>
<line x1="28.10" y1="370.30" x2="30.30" y2="370.30" stroke="#555" stroke-width="0.8"/>
<text x="27.30" y="372.60" font-size="6.15" text-anchor="end" fill="#333" stroke="#333" stroke-width="0.2">6</text>
<line x1="28.10" y1="397.20" x2="30.30" y2="397.20" stroke="#555" stroke-width="0.8"/>
<text x="27.30" y="399.50" font-size="6.15" text-anchor="end" fill="#333" stroke="#333" stroke-width="0.2">4</text>
<line x1="28.10" y1="424.00" x2="30.30" y2="424.00" stroke="#555" stroke-width="0.8"/>
<text x="27.30" y="426.30" font-size="6.15" text-anchor="end" fill="#333" stroke="#333" stroke-width="0.2">2</text>
</g>
<g>
<rect x="135.30" y="334.70" width="87.20" height="95.70" fill="#ffffff"/>
<clipPath id="cpq"><rect x="135.30" y="334.70" width="87.20" height="95.70"/></clipPath>
<g clip-path="url(#cpq)">
<circle cx="139.2" cy="338.7" r="2.05" fill="#c6abde" fill-opacity="0.75"/>
<circle cx="139.2" cy="369.2" r="2.05" fill="#c6abde" fill-opacity="0.75"/>
<circle cx="139.2" cy="388.1" r="2.05" fill="#c6abde" fill-opacity="0.75"/>
<circle cx="151.7" cy="360.7" r="2.05" fill="#c6abde" fill-opacity="0.75"/>
<circle cx="151.7" cy="384.2" r="2.05" fill="#c6abde" fill-opacity="0.75"/>
<circle cx="151.7" cy="414.7" r="2.05" fill="#c6abde" fill-opacity="0.75"/>
<circle cx="168.3" cy="356.9" r="2.05" fill="#c6abde" fill-opacity="0.75"/>
<circle cx="168.3" cy="396.0" r="2.05" fill="#c6abde" fill-opacity="0.75"/>
<circle cx="168.3" cy="417.7" r="2.05" fill="#c6abde" fill-opacity="0.75"/>
<circle cx="188.8" cy="364.2" r="2.05" fill="#c6abde" fill-opacity="0.75"/>
<circle cx="188.8" cy="378.3" r="2.05" fill="#c6abde" fill-opacity="0.75"/>
<circle cx="188.8" cy="387.6" r="2.05" fill="#c6abde" fill-opacity="0.75"/>
<circle cx="202.4" cy="398.8" r="2.05" fill="#c6abde" fill-opacity="0.75"/>
<circle cx="202.4" cy="405.1" r="2.05" fill="#c6abde" fill-opacity="0.75"/>
<circle cx="202.4" cy="421.1" r="2.05" fill="#c6abde" fill-opacity="0.75"/>
<circle cx="218.8" cy="381.9" r="2.05" fill="#c6abde" fill-opacity="0.75"/>
<circle cx="218.8" cy="381.9" r="2.05" fill="#c6abde" fill-opacity="0.75"/>
<circle cx="218.8" cy="426.3" r="2.05" fill="#c6abde" fill-opacity="0.75"/>
</g>
<text x="140.00" y="345.80" font-size="9.3" fill="#1a1a1a" stroke="#1a1a1a" stroke-width="0.2">(q)</text>
<text x="157.70" y="349.90" font-size="6.8" fill="#86858b" stroke="#86858b" stroke-width="0.22" xml:space="preserve" textLength="62.60" lengthAdjust="spacing"><tspan font-style="italic">y</tspan> = 6.29 - 0.00524 <tspan font-style="italic">x</tspan></text>
<text x="176.50" y="361.80" font-size="6.8" fill="#86858b" stroke="#86858b" stroke-width="0.22" xml:space="preserve" textLength="30.80" lengthAdjust="spacing"><tspan font-style="italic">P</tspan> = 0.085</text>
<rect x="135.30" y="334.70" width="87.20" height="95.70" fill="none" stroke="#a0a0a0" stroke-width="1"/>
<line x1="133.10" y1="358.50" x2="135.30" y2="358.50" stroke="#555" stroke-width="0.8"/>
<text x="132.30" y="360.80" font-size="6.15" text-anchor="end" fill="#333" stroke="#333" stroke-width="0.2">5.0</text>
<line x1="133.10" y1="385.30" x2="135.30" y2="385.30" stroke="#555" stroke-width="0.8"/>
<text x="132.30" y="387.60" font-size="6.15" text-anchor="end" fill="#333" stroke="#333" stroke-width="0.2">2.5</text>
<line x1="133.10" y1="412.00" x2="135.30" y2="412.00" stroke="#555" stroke-width="0.8"/>
<text x="132.30" y="414.30" font-size="6.15" text-anchor="end" fill="#333" stroke="#333" stroke-width="0.2">0.0</text>
</g>
<g>
<rect x="241.00" y="334.70" width="87.30" height="95.70" fill="#ffffff"/>
<clipPath id="cpr"><rect x="241.00" y="334.70" width="87.30" height="95.70"/></clipPath>
<g clip-path="url(#cpr)">
<circle cx="324.2" cy="339.1" r="2.05" fill="#ffaa5f" fill-opacity="0.75"/>
<circle cx="324.2" cy="349.4" r="2.05" fill="#ffaa5f" fill-opacity="0.75"/>
<circle cx="324.2" cy="393.3" r="2.05" fill="#ffaa5f" fill-opacity="0.75"/>
<circle cx="308.2" cy="375.5" r="2.05" fill="#ffaa5f" fill-opacity="0.75"/>
<circle cx="308.2" cy="382.8" r="2.05" fill="#ffaa5f" fill-opacity="0.75"/>
<circle cx="308.2" cy="412.4" r="2.05" fill="#ffaa5f" fill-opacity="0.75"/>
<circle cx="294.1" cy="361.4" r="2.05" fill="#ffaa5f" fill-opacity="0.75"/>
<circle cx="294.1" cy="377.4" r="2.05" fill="#ffaa5f" fill-opacity="0.75"/>
<circle cx="294.1" cy="410.8" r="2.05" fill="#ffaa5f" fill-opacity="0.75"/>
<circle cx="274.1" cy="404.5" r="2.05" fill="#ffaa5f" fill-opacity="0.75"/>
<circle cx="274.1" cy="407.4" r="2.05" fill="#ffaa5f" fill-opacity="0.75"/>
<circle cx="257.2" cy="390.3" r="2.05" fill="#ffaa5f" fill-opacity="0.75"/>
<circle cx="257.2" cy="404.0" r="2.05" fill="#ffaa5f" fill-opacity="0.75"/>
<circle cx="257.2" cy="405.1" r="2.05" fill="#ffaa5f" fill-opacity="0.75"/>
<circle cx="245.2" cy="405.6" r="2.05" fill="#ffaa5f" fill-opacity="0.75"/>
<circle cx="245.2" cy="407.4" r="2.05" fill="#ffaa5f" fill-opacity="0.75"/>
<circle cx="245.2" cy="409.7" r="2.05" fill="#ffaa5f" fill-opacity="0.75"/>
<path d="M245.20,395.55 L247.17,395.05 L249.15,394.55 L251.12,394.03 L253.10,393.51 L255.07,392.97 L257.05,392.42 L259.02,391.85 L261.00,391.26 L262.97,390.65 L264.95,390.02 L266.93,389.37 L268.90,388.69 L270.88,387.98 L272.85,387.24 L274.82,386.47 L276.80,385.66 L278.77,384.81 L280.75,383.92 L282.72,382.99 L284.70,382.01 L286.68,380.99 L288.65,379.93 L290.62,378.83 L292.60,377.69 L294.57,376.52 L296.55,375.30 L298.52,374.06 L300.50,372.78 L302.47,371.48 L304.45,370.16 L306.43,368.81 L308.40,367.44 L310.38,366.05 L312.35,364.64 L314.32,363.22 L316.30,361.79 L318.27,360.35 L320.25,358.89 L322.23,357.42 L324.20,355.95 L324.20,386.05 L322.23,386.53 L320.25,387.02 L318.27,387.52 L316.30,388.03 L314.32,388.55 L312.35,389.09 L310.38,389.64 L308.40,390.20 L306.43,390.79 L304.45,391.39 L302.47,392.02 L300.50,392.68 L298.52,393.36 L296.55,394.07 L294.57,394.81 L292.60,395.59 L290.62,396.40 L288.65,397.26 L286.68,398.15 L284.70,399.09 L282.72,400.07 L280.75,401.09 L278.77,402.16 L276.80,403.26 L274.82,404.41 L272.85,405.59 L270.88,406.80 L268.90,408.05 L266.93,409.32 L264.95,410.63 L262.97,411.95 L261.00,413.30 L259.02,414.67 L257.05,416.05 L255.07,417.46 L253.10,418.87 L251.12,420.30 L249.15,421.74 L247.17,423.19 L245.20,424.65Z" fill="#999999" fill-opacity="0.4"/>
<line x1="245.20" y1="410.10" x2="324.20" y2="371.00" stroke="#ffb27a" stroke-width="1.6"/>
</g>
<text x="245.40" y="345.60" font-size="9.3" fill="#1a1a1a" stroke="#1a1a1a" stroke-width="0.2">(r)</text>
<text x="250.20" y="354.90" font-size="6.8" fill="#a38b70" stroke="#a38b70" stroke-width="0.22" xml:space="preserve" textLength="62.60" lengthAdjust="spacing"><tspan font-style="italic">y</tspan> = - 5.3 + 0.00768 <tspan font-style="italic">x</tspan></text>
<text x="260.00" y="366.80" font-size="6.8" fill="#a38b70" stroke="#a38b70" stroke-width="0.22" xml:space="preserve" textLength="29.10" lengthAdjust="spacing"><tspan font-style="italic">P</tspan> = 0.004</text>
<rect x="241.00" y="334.70" width="87.30" height="95.70" fill="none" stroke="#a0a0a0" stroke-width="1"/>
<line x1="238.80" y1="354.40" x2="241.00" y2="354.40" stroke="#555" stroke-width="0.8"/>
<text x="238.00" y="356.70" font-size="6.15" text-anchor="end" fill="#333" stroke="#333" stroke-width="0.2">4</text>
<line x1="238.80" y1="375.50" x2="241.00" y2="375.50" stroke="#555" stroke-width="0.8"/>
<text x="238.00" y="377.80" font-size="6.15" text-anchor="end" fill="#333" stroke="#333" stroke-width="0.2">2</text>
<line x1="238.80" y1="397.20" x2="241.00" y2="397.20" stroke="#555" stroke-width="0.8"/>
<text x="238.00" y="399.50" font-size="6.15" text-anchor="end" fill="#333" stroke="#333" stroke-width="0.2">0</text>
<line x1="238.80" y1="418.80" x2="241.00" y2="418.80" stroke="#555" stroke-width="0.8"/>
<text x="238.00" y="421.10" font-size="6.15" text-anchor="end" fill="#333" stroke="#333" stroke-width="0.2">-2</text>
</g>
<g>
<rect x="346.20" y="334.70" width="87.20" height="95.70" fill="#ffffff"/>
<clipPath id="cps"><rect x="346.20" y="334.70" width="87.20" height="95.70"/></clipPath>
<g clip-path="url(#cps)">
<circle cx="350.2" cy="351.6" r="2.05" fill="#ff7880" fill-opacity="0.75"/>
<circle cx="350.2" cy="393.8" r="2.05" fill="#ff7880" fill-opacity="0.75"/>
<circle cx="350.2" cy="404.5" r="2.05" fill="#ff7880" fill-opacity="0.75"/>
<circle cx="362.2" cy="339.1" r="2.05" fill="#ff7880" fill-opacity="0.75"/>
<circle cx="362.2" cy="365.3" r="2.05" fill="#ff7880" fill-opacity="0.75"/>
<circle cx="362.2" cy="386.9" r="2.05" fill="#ff7880" fill-opacity="0.75"/>
<circle cx="379.1" cy="382.8" r="2.05" fill="#ff7880" fill-opacity="0.75"/>
<circle cx="379.1" cy="421.8" r="2.05" fill="#ff7880" fill-opacity="0.75"/>
<circle cx="399.6" cy="410.8" r="2.05" fill="#ff7880" fill-opacity="0.75"/>
<circle cx="399.6" cy="416.5" r="2.05" fill="#ff7880" fill-opacity="0.75"/>
<circle cx="413.2" cy="377.1" r="2.05" fill="#ff7880" fill-opacity="0.75"/>
<circle cx="413.2" cy="397.2" r="2.05" fill="#ff7880" fill-opacity="0.75"/>
<circle cx="413.2" cy="398.8" r="2.05" fill="#ff7880" fill-opacity="0.75"/>
<circle cx="429.2" cy="397.2" r="2.05" fill="#ff7880" fill-opacity="0.75"/>
<circle cx="429.2" cy="407.4" r="2.05" fill="#ff7880" fill-opacity="0.75"/>
<circle cx="429.2" cy="414.7" r="2.05" fill="#ff7880" fill-opacity="0.75"/>
<path d="M350.20,359.70 L352.18,361.06 L354.15,362.40 L356.12,363.73 L358.10,365.05 L360.07,366.35 L362.05,367.63 L364.02,368.90 L366.00,370.14 L367.97,371.36 L369.95,372.56 L371.93,373.72 L373.90,374.85 L375.88,375.95 L377.85,377.01 L379.82,378.04 L381.80,379.01 L383.77,379.95 L385.75,380.83 L387.72,381.66 L389.70,382.45 L391.68,383.18 L393.65,383.87 L395.62,384.50 L397.60,385.09 L399.57,385.64 L401.55,386.14 L403.52,386.61 L405.50,387.04 L407.47,387.44 L409.45,387.81 L411.43,388.16 L413.40,388.48 L415.38,388.78 L417.35,389.06 L419.32,389.33 L421.30,389.58 L423.27,389.81 L425.25,390.03 L427.23,390.25 L429.20,390.45 L429.20,425.35 L427.23,424.01 L425.25,422.69 L423.27,421.37 L421.30,420.06 L419.32,418.77 L417.35,417.50 L415.38,416.24 L413.40,415.00 L411.43,413.78 L409.45,412.59 L407.47,411.42 L405.50,410.28 L403.52,409.17 L401.55,408.10 L399.57,407.06 L397.60,406.07 L395.62,405.12 L393.65,404.21 L391.68,403.36 L389.70,402.55 L387.72,401.80 L385.75,401.09 L383.77,400.43 L381.80,399.83 L379.82,399.26 L377.85,398.75 L375.88,398.27 L373.90,397.83 L371.93,397.42 L369.95,397.04 L367.97,396.70 L366.00,396.38 L364.02,396.08 L362.05,395.81 L360.07,395.55 L358.10,395.31 L356.12,395.09 L354.15,394.88 L352.18,394.68 L350.20,394.50Z" fill="#999999" fill-opacity="0.4"/>
<line x1="350.20" y1="377.10" x2="429.20" y2="407.90" stroke="#ff8e8e" stroke-width="1.6"/>
</g>
<text x="350.20" y="346.00" font-size="9.3" fill="#1a1a1a" stroke="#1a1a1a" stroke-width="0.2">(s)</text>
<text x="367.40" y="355.10" font-size="6.8" fill="#98686c" stroke="#98686c" stroke-width="0.22" xml:space="preserve" textLength="61.80" lengthAdjust="spacing"><tspan font-style="italic">y</tspan> = 9.35 - 0.00698 <tspan font-style="italic">x</tspan></text>
<text x="383.00" y="367.80" font-size="6.8" fill="#98686c" stroke="#98686c" stroke-width="0.22" xml:space="preserve" textLength="29.50" lengthAdjust="spacing"><tspan font-style="italic">P</tspan> = 0.036</text>
<rect x="346.20" y="334.70" width="87.20" height="95.70" fill="none" stroke="#a0a0a0" stroke-width="1"/>
<line x1="344.00" y1="338.00" x2="346.20" y2="338.00" stroke="#555" stroke-width="0.8"/>
<text x="343.20" y="340.30" font-size="6.15" text-anchor="end" fill="#333" stroke="#333" stroke-width="0.2">10.0</text>
<line x1="344.00" y1="360.70" x2="346.20" y2="360.70" stroke="#555" stroke-width="0.8"/>
<text x="343.20" y="363.00" font-size="6.15" text-anchor="end" fill="#333" stroke="#333" stroke-width="0.2">7.5</text>
<line x1="344.00" y1="383.50" x2="346.20" y2="383.50" stroke="#555" stroke-width="0.8"/>
<text x="343.20" y="385.80" font-size="6.15" text-anchor="end" fill="#333" stroke="#333" stroke-width="0.2">5.0</text>
<line x1="344.00" y1="406.30" x2="346.20" y2="406.30" stroke="#555" stroke-width="0.8"/>
<text x="343.20" y="408.60" font-size="6.15" text-anchor="end" fill="#333" stroke="#333" stroke-width="0.2">2.5</text>
<line x1="344.00" y1="428.60" x2="346.20" y2="428.60" stroke="#555" stroke-width="0.8"/>
<text x="343.20" y="430.90" font-size="6.15" text-anchor="end" fill="#333" stroke="#333" stroke-width="0.2">0.0</text>
</g>
<g>
<rect x="452.90" y="334.70" width="87.60" height="95.70" fill="#ffffff"/>
<clipPath id="cpt"><rect x="452.90" y="334.70" width="87.60" height="95.70"/></clipPath>
<g clip-path="url(#cpt)">
<circle cx="456.9" cy="339.1" r="2.05" fill="#0050af" fill-opacity="0.75"/>
<circle cx="456.9" cy="340.9" r="2.05" fill="#0050af" fill-opacity="0.75"/>
<circle cx="456.9" cy="389.2" r="2.05" fill="#0050af" fill-opacity="0.75"/>
<circle cx="469.2" cy="410.1" r="2.05" fill="#0050af" fill-opacity="0.75"/>
<circle cx="469.2" cy="411.5" r="2.05" fill="#0050af" fill-opacity="0.75"/>
<circle cx="469.2" cy="426.1" r="2.05" fill="#0050af" fill-opacity="0.75"/>
<circle cx="485.8" cy="366.9" r="2.05" fill="#0050af" fill-opacity="0.75"/>
<circle cx="485.8" cy="378.0" r="2.05" fill="#0050af" fill-opacity="0.75"/>
<circle cx="485.8" cy="383.5" r="2.05" fill="#0050af" fill-opacity="0.75"/>
<circle cx="506.3" cy="376.9" r="2.05" fill="#0050af" fill-opacity="0.75"/>
<circle cx="506.3" cy="394.7" r="2.05" fill="#0050af" fill-opacity="0.75"/>
<circle cx="506.3" cy="402.2" r="2.05" fill="#0050af" fill-opacity="0.75"/>
<circle cx="519.9" cy="395.8" r="2.05" fill="#0050af" fill-opacity="0.75"/>
<circle cx="519.9" cy="405.4" r="2.05" fill="#0050af" fill-opacity="0.75"/>
<circle cx="519.9" cy="410.8" r="2.05" fill="#0050af" fill-opacity="0.75"/>
<circle cx="536.6" cy="391.9" r="2.05" fill="#0050af" fill-opacity="0.75"/>
<circle cx="536.6" cy="396.7" r="2.05" fill="#0050af" fill-opacity="0.75"/>
<circle cx="536.6" cy="409.0" r="2.05" fill="#0050af" fill-opacity="0.75"/>
</g>
<text x="457.00" y="345.60" font-size="9.3" fill="#1a1a1a" stroke="#1a1a1a" stroke-width="0.2">(t)</text>
<text x="472.50" y="353.50" font-size="6.8" fill="#3f6282" stroke="#3f6282" stroke-width="0.22" xml:space="preserve" textLength="62.10" lengthAdjust="spacing"><tspan font-style="italic">y</tspan> = 5.28 - 0.00547 <tspan font-style="italic">x</tspan></text>
<text x="488.30" y="365.80" font-size="6.8" fill="#3f6282" stroke="#3f6282" stroke-width="0.22" xml:space="preserve" textLength="30.50" lengthAdjust="spacing"><tspan font-style="italic">P</tspan> = 0.113</text>
<rect x="452.90" y="334.70" width="87.60" height="95.70" fill="none" stroke="#a0a0a0" stroke-width="1"/>
<line x1="450.70" y1="353.90" x2="452.90" y2="353.90" stroke="#555" stroke-width="0.8"/>
<text x="449.90" y="356.20" font-size="6.15" text-anchor="end" fill="#333" stroke="#333" stroke-width="0.2">5.0</text>
<line x1="450.70" y1="377.40" x2="452.90" y2="377.40" stroke="#555" stroke-width="0.8"/>
<text x="449.90" y="379.70" font-size="6.15" text-anchor="end" fill="#333" stroke="#333" stroke-width="0.2">2.5</text>
<line x1="450.70" y1="400.80" x2="452.90" y2="400.80" stroke="#555" stroke-width="0.8"/>
<text x="449.90" y="403.10" font-size="6.15" text-anchor="end" fill="#333" stroke="#333" stroke-width="0.2">0.0</text>
<line x1="450.70" y1="424.50" x2="452.90" y2="424.50" stroke="#555" stroke-width="0.8"/>
<text x="449.90" y="426.80" font-size="6.15" text-anchor="end" fill="#333" stroke="#333" stroke-width="0.2">-2.5</text>
</g>
<line x1="30.80" y1="430.40" x2="30.80" y2="432.60" stroke="#555" stroke-width="0.8"/>
<text x="31.50" y="440.80" font-size="6.7" text-anchor="middle" fill="#333" stroke="#333" stroke-width="0.2">500</text>
<line x1="46.95" y1="430.40" x2="46.95" y2="432.60" stroke="#555" stroke-width="0.8"/>
<text x="48.90" y="440.80" font-size="6.7" text-anchor="middle" fill="#333" stroke="#333" stroke-width="0.2">600</text>
<line x1="63.10" y1="430.40" x2="63.10" y2="432.60" stroke="#555" stroke-width="0.8"/>
<text x="66.30" y="440.80" font-size="6.7" text-anchor="middle" fill="#333" stroke="#333" stroke-width="0.2">700</text>
<line x1="79.25" y1="430.40" x2="79.25" y2="432.60" stroke="#555" stroke-width="0.8"/>
<text x="83.70" y="440.80" font-size="6.7" text-anchor="middle" fill="#333" stroke="#333" stroke-width="0.2">800</text>
<line x1="95.40" y1="430.40" x2="95.40" y2="432.60" stroke="#555" stroke-width="0.8"/>
<text x="101.10" y="440.80" font-size="6.7" text-anchor="middle" fill="#333" stroke="#333" stroke-width="0.2">900</text>
<line x1="111.55" y1="430.40" x2="111.55" y2="432.60" stroke="#555" stroke-width="0.8"/>
<text x="118.50" y="440.80" font-size="6.7" text-anchor="middle" fill="#333" stroke="#333" stroke-width="0.2">1000</text>
<line x1="135.80" y1="430.40" x2="135.80" y2="432.60" stroke="#555" stroke-width="0.8"/>
<text x="136.50" y="440.80" font-size="6.7" text-anchor="middle" fill="#333" stroke="#333" stroke-width="0.2">500</text>
<line x1="151.95" y1="430.40" x2="151.95" y2="432.60" stroke="#555" stroke-width="0.8"/>
<text x="153.90" y="440.80" font-size="6.7" text-anchor="middle" fill="#333" stroke="#333" stroke-width="0.2">600</text>
<line x1="168.10" y1="430.40" x2="168.10" y2="432.60" stroke="#555" stroke-width="0.8"/>
<text x="171.30" y="440.80" font-size="6.7" text-anchor="middle" fill="#333" stroke="#333" stroke-width="0.2">700</text>
<line x1="184.25" y1="430.40" x2="184.25" y2="432.60" stroke="#555" stroke-width="0.8"/>
<text x="188.70" y="440.80" font-size="6.7" text-anchor="middle" fill="#333" stroke="#333" stroke-width="0.2">800</text>
<line x1="200.40" y1="430.40" x2="200.40" y2="432.60" stroke="#555" stroke-width="0.8"/>
<text x="206.10" y="440.80" font-size="6.7" text-anchor="middle" fill="#333" stroke="#333" stroke-width="0.2">900</text>
<line x1="216.55" y1="430.40" x2="216.55" y2="432.60" stroke="#555" stroke-width="0.8"/>
<text x="223.50" y="440.80" font-size="6.7" text-anchor="middle" fill="#333" stroke="#333" stroke-width="0.2">1000</text>
<line x1="241.50" y1="430.40" x2="241.50" y2="432.60" stroke="#555" stroke-width="0.8"/>
<text x="242.20" y="440.80" font-size="6.7" text-anchor="middle" fill="#333" stroke="#333" stroke-width="0.2">500</text>
<line x1="257.65" y1="430.40" x2="257.65" y2="432.60" stroke="#555" stroke-width="0.8"/>
<text x="259.60" y="440.80" font-size="6.7" text-anchor="middle" fill="#333" stroke="#333" stroke-width="0.2">600</text>
<line x1="273.80" y1="430.40" x2="273.80" y2="432.60" stroke="#555" stroke-width="0.8"/>
<text x="277.00" y="440.80" font-size="6.7" text-anchor="middle" fill="#333" stroke="#333" stroke-width="0.2">700</text>
<line x1="289.95" y1="430.40" x2="289.95" y2="432.60" stroke="#555" stroke-width="0.8"/>
<text x="294.40" y="440.80" font-size="6.7" text-anchor="middle" fill="#333" stroke="#333" stroke-width="0.2">800</text>
<line x1="306.10" y1="430.40" x2="306.10" y2="432.60" stroke="#555" stroke-width="0.8"/>
<text x="311.80" y="440.80" font-size="6.7" text-anchor="middle" fill="#333" stroke="#333" stroke-width="0.2">900</text>
<line x1="322.25" y1="430.40" x2="322.25" y2="432.60" stroke="#555" stroke-width="0.8"/>
<text x="329.20" y="440.80" font-size="6.7" text-anchor="middle" fill="#333" stroke="#333" stroke-width="0.2">1000</text>
<line x1="346.70" y1="430.40" x2="346.70" y2="432.60" stroke="#555" stroke-width="0.8"/>
<text x="347.40" y="440.80" font-size="6.7" text-anchor="middle" fill="#333" stroke="#333" stroke-width="0.2">500</text>
<line x1="362.85" y1="430.40" x2="362.85" y2="432.60" stroke="#555" stroke-width="0.8"/>
<text x="364.80" y="440.80" font-size="6.7" text-anchor="middle" fill="#333" stroke="#333" stroke-width="0.2">600</text>
<line x1="379.00" y1="430.40" x2="379.00" y2="432.60" stroke="#555" stroke-width="0.8"/>
<text x="382.20" y="440.80" font-size="6.7" text-anchor="middle" fill="#333" stroke="#333" stroke-width="0.2">700</text>
<line x1="395.15" y1="430.40" x2="395.15" y2="432.60" stroke="#555" stroke-width="0.8"/>
<text x="399.60" y="440.80" font-size="6.7" text-anchor="middle" fill="#333" stroke="#333" stroke-width="0.2">800</text>
<line x1="411.30" y1="430.40" x2="411.30" y2="432.60" stroke="#555" stroke-width="0.8"/>
<text x="417.00" y="440.80" font-size="6.7" text-anchor="middle" fill="#333" stroke="#333" stroke-width="0.2">900</text>
<line x1="427.45" y1="430.40" x2="427.45" y2="432.60" stroke="#555" stroke-width="0.8"/>
<text x="434.40" y="440.80" font-size="6.7" text-anchor="middle" fill="#333" stroke="#333" stroke-width="0.2">1000</text>
<line x1="453.40" y1="430.40" x2="453.40" y2="432.60" stroke="#555" stroke-width="0.8"/>
<text x="454.10" y="440.80" font-size="6.7" text-anchor="middle" fill="#333" stroke="#333" stroke-width="0.2">500</text>
<line x1="469.55" y1="430.40" x2="469.55" y2="432.60" stroke="#555" stroke-width="0.8"/>
<text x="471.50" y="440.80" font-size="6.7" text-anchor="middle" fill="#333" stroke="#333" stroke-width="0.2">600</text>
<line x1="485.70" y1="430.40" x2="485.70" y2="432.60" stroke="#555" stroke-width="0.8"/>
<text x="488.90" y="440.80" font-size="6.7" text-anchor="middle" fill="#333" stroke="#333" stroke-width="0.2">700</text>
<line x1="501.85" y1="430.40" x2="501.85" y2="432.60" stroke="#555" stroke-width="0.8"/>
<text x="506.30" y="440.80" font-size="6.7" text-anchor="middle" fill="#333" stroke="#333" stroke-width="0.2">800</text>
<line x1="518.00" y1="430.40" x2="518.00" y2="432.60" stroke="#555" stroke-width="0.8"/>
<text x="523.70" y="440.80" font-size="6.7" text-anchor="middle" fill="#333" stroke="#333" stroke-width="0.2">900</text>
<line x1="534.15" y1="430.40" x2="534.15" y2="432.60" stroke="#555" stroke-width="0.8"/>
<text x="541.10" y="440.80" font-size="6.7" text-anchor="middle" fill="#333" stroke="#333" stroke-width="0.2">1000</text>
<text x="289" y="456" font-size="8.9" font-weight="bold" text-anchor="middle" fill="#111">Elevation (m)</text>
<text transform="translate(8.9,75.5) rotate(-90)" font-size="9.1" text-anchor="middle" fill="#111">Abundance (ind. ·100 g<tspan dy="-3" font-size="5.5">-1</tspan><tspan dy="3">)</tspan></text>
<text transform="translate(7.1,185.9) rotate(-90)" font-size="9.3" text-anchor="middle" fill="#111">α-diversity</text>
<text transform="translate(7.1,288.0) rotate(-90)" font-size="9.3" text-anchor="middle" fill="#111">β-diversity</text>
<text transform="translate(7.1,387.9) rotate(-90)" font-size="9.4" text-anchor="middle" fill="#111">β-deviation</text>
</svg>
</body></html>
